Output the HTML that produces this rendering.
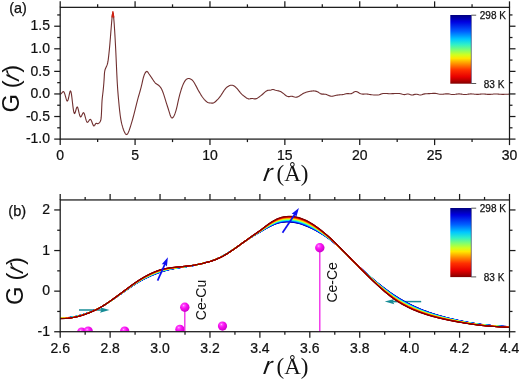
<!DOCTYPE html>
<html lang="en"><head><meta charset="utf-8"><title>G(r) pair distribution function</title>
<style>html,body{margin:0;padding:0;background:#fff}body{width:520px;height:381px;overflow:hidden}svg text{white-space:pre}</style>
</head><body>
<svg width="520" height="381" viewBox="0 0 520 381" style="display:block">
<rect width="520" height="381" fill="#fff"/>
<defs>
<linearGradient id="jet" x1="0" y1="0" x2="0" y2="1">
<stop offset="0" stop-color="#00007f"/>
<stop offset="0.1" stop-color="#0000e0"/>
<stop offset="0.24" stop-color="#0060ff"/>
<stop offset="0.35" stop-color="#00c8ff"/>
<stop offset="0.43" stop-color="#30f0c8"/>
<stop offset="0.51" stop-color="#80ff70"/>
<stop offset="0.58" stop-color="#d0ff20"/>
<stop offset="0.63" stop-color="#ffe800"/>
<stop offset="0.71" stop-color="#ff9000"/>
<stop offset="0.8" stop-color="#ff3000"/>
<stop offset="0.9" stop-color="#e80000"/>
<stop offset="0.96" stop-color="#b00000"/>
<stop offset="1" stop-color="#7f0000"/>
</linearGradient>
<radialGradient id="ball" cx="0.38" cy="0.32" r="0.7"><stop offset="0" stop-color="#ffc0ff"/><stop offset="0.15" stop-color="#ff50ff"/><stop offset="0.45" stop-color="#f810f0"/><stop offset="1" stop-color="#c800c8"/></radialGradient>
<clipPath id="clipA"><rect x="60.2" y="7.35" width="449.3" height="131.75"/></clipPath>
<clipPath id="clipB"><rect x="60.2" y="199.95" width="449.3" height="131.75"/></clipPath>
</defs>
<g clip-path="url(#clipA)">
<path d="M60.00,94.40 L60.53,94.11 L61.08,93.72 L61.67,93.12 L62.29,92.32 L62.94,91.69 L63.59,91.62 L64.22,92.47 L64.83,94.09 L65.41,96.11 L65.98,98.17 L66.52,99.90 L67.05,100.96 L67.57,100.97 L68.07,99.87 L68.55,98.00 L69.02,95.77 L69.48,93.58 L69.92,91.81 L70.34,90.86 L70.76,91.11 L71.16,92.54 L71.55,94.89 L71.94,97.88 L72.33,101.22 L72.72,104.64 L73.12,107.87 L73.53,110.61 L73.96,112.60 L74.40,113.56 L74.87,113.26 L75.35,111.99 L75.85,110.23 L76.35,108.47 L76.85,107.22 L77.35,106.95 L77.83,107.86 L78.31,109.59 L78.80,111.76 L79.31,113.96 L79.83,115.79 L80.38,116.87 L80.97,116.83 L81.59,115.85 L82.22,114.45 L82.85,113.18 L83.46,112.60 L84.04,113.13 L84.59,114.57 L85.14,116.56 L85.69,118.71 L86.26,120.65 L86.86,122.00 L87.50,122.40 L88.19,121.79 L88.91,120.70 L89.64,119.68 L90.34,119.31 L91.02,119.94 L91.66,121.30 L92.28,122.99 L92.88,124.61 L93.47,125.73 L94.06,125.98 L94.64,125.36 L95.22,124.36 L95.79,123.49 L96.36,123.22 L96.92,123.47 L97.49,123.72 L98.07,123.64 L98.65,123.30 L99.21,122.82 L99.74,122.26 L100.21,121.59 L100.58,120.80 L100.85,119.87 L101.04,118.83 L101.17,117.68 L101.27,116.46 L101.35,115.16 L101.43,113.82 L101.50,112.44 L101.57,111.04 L101.63,109.62 L101.69,108.20 L101.75,106.79 L101.80,105.40 L101.86,104.02 L101.92,102.64 L102.01,101.27 L102.11,99.90 L102.24,98.53 L102.38,97.14 L102.55,95.73 L102.72,94.26 L102.90,92.74 L103.09,91.13 L103.27,89.43 L103.44,87.67 L103.60,85.85 L103.76,84.01 L103.90,82.18 L104.03,80.37 L104.15,78.62 L104.24,76.95 L104.33,75.37 L104.42,73.89 L104.55,72.50 L104.73,71.21 L104.98,70.02 L105.33,68.94 L105.75,67.93 L106.21,66.94 L106.67,65.95 L107.10,64.90 L107.46,63.76 L107.75,62.52 L108.00,61.21 L108.21,59.83 L108.39,58.40 L108.57,56.92 L108.74,55.41 L108.91,53.88 L109.07,52.36 L109.23,50.85 L109.38,49.38 L109.51,47.95 L109.64,46.58 L109.76,45.24 L109.88,43.89 L109.99,42.52 L110.11,41.09 L110.24,39.56 L110.37,37.93 L110.51,36.19 L110.66,34.35 L110.81,32.41 L110.98,30.38 L111.15,28.27 L111.33,26.07 L111.52,23.79 L111.71,21.47 L111.91,19.21 L112.12,17.12 L112.33,15.34 L112.54,13.99 L112.75,13.18 L112.96,13.03 L113.17,13.60 L113.37,14.75 L113.57,16.38 L113.76,18.35 L113.94,20.53 L114.12,22.82 L114.28,25.07 L114.42,27.24 L114.56,29.32 L114.69,31.33 L114.81,33.27 L114.92,35.15 L115.03,36.98 L115.13,38.77 L115.23,40.52 L115.32,42.24 L115.42,43.96 L115.51,45.69 L115.60,47.45 L115.69,49.25 L115.79,51.12 L115.88,53.06 L115.97,55.10 L116.07,57.23 L116.17,59.41 L116.27,61.65 L116.37,63.91 L116.47,66.17 L116.56,68.42 L116.66,70.63 L116.76,72.79 L116.86,74.87 L116.96,76.87 L117.05,78.81 L117.15,80.68 L117.25,82.50 L117.36,84.28 L117.47,86.03 L117.58,87.75 L117.70,89.45 L117.83,91.15 L117.97,92.86 L118.11,94.59 L118.26,96.36 L118.42,98.18 L118.60,100.06 L118.78,102.02 L118.97,104.04 L119.17,106.12 L119.38,108.23 L119.61,110.34 L119.85,112.43 L120.10,114.47 L120.37,116.45 L120.66,118.34 L120.96,120.12 L121.29,121.80 L121.64,123.41 L122.02,124.95 L122.44,126.46 L122.91,127.96 L123.42,129.46 L123.99,130.96 L124.59,132.35 L125.22,133.51 L125.86,134.30 L126.51,134.60 L127.14,134.32 L127.75,133.55 L128.35,132.39 L128.93,130.97 L129.50,129.40 L130.05,127.78 L130.59,126.13 L131.12,124.44 L131.64,122.71 L132.16,120.94 L132.67,119.11 L133.17,117.24 L133.68,115.30 L134.19,113.31 L134.70,111.30 L135.20,109.27 L135.70,107.26 L136.19,105.29 L136.68,103.37 L137.14,101.53 L137.60,99.80 L138.04,98.18 L138.47,96.66 L138.88,95.23 L139.27,93.87 L139.66,92.54 L140.03,91.23 L140.40,89.93 L140.75,88.62 L141.10,87.29 L141.43,85.94 L141.77,84.55 L142.10,83.12 L142.42,81.65 L142.75,80.16 L143.11,78.67 L143.49,77.22 L143.92,75.83 L144.40,74.53 L144.95,73.36 L145.54,72.38 L146.14,71.70 L146.73,71.40 L147.29,71.57 L147.83,72.13 L148.40,72.97 L149.03,73.97 L149.74,75.04 L150.50,76.16 L151.28,77.30 L152.04,78.42 L152.77,79.51 L153.43,80.52 L154.05,81.44 L154.65,82.26 L155.26,82.98 L155.92,83.57 L156.64,84.06 L157.39,84.51 L158.15,84.99 L158.90,85.56 L159.63,86.26 L160.34,87.09 L161.03,88.09 L161.69,89.28 L162.33,90.66 L162.94,92.20 L163.53,93.86 L164.09,95.60 L164.65,97.38 L165.18,99.16 L165.71,100.90 L166.23,102.58 L166.74,104.18 L167.24,105.73 L167.74,107.26 L168.23,108.78 L168.71,110.30 L169.19,111.86 L169.67,113.45 L170.15,114.97 L170.64,116.31 L171.16,117.33 L171.72,117.92 L172.33,117.98 L172.96,117.51 L173.61,116.62 L174.25,115.39 L174.86,113.94 L175.43,112.32 L175.96,110.60 L176.44,108.83 L176.88,107.05 L177.28,105.33 L177.64,103.70 L177.96,102.22 L178.24,100.91 L178.51,99.70 L178.77,98.55 L179.05,97.37 L179.37,96.10 L179.74,94.70 L180.16,93.17 L180.63,91.56 L181.13,89.91 L181.67,88.26 L182.24,86.66 L182.83,85.14 L183.43,83.73 L184.05,82.47 L184.70,81.36 L185.36,80.41 L186.04,79.64 L186.76,79.07 L187.50,78.69 L188.28,78.51 L189.11,78.53 L189.98,78.74 L190.86,79.13 L191.72,79.69 L192.51,80.41 L193.24,81.25 L193.91,82.22 L194.56,83.28 L195.19,84.42 L195.82,85.62 L196.47,86.85 L197.14,88.12 L197.82,89.39 L198.51,90.65 L199.20,91.89 L199.89,93.10 L200.58,94.26 L201.29,95.38 L202.01,96.46 L202.76,97.51 L203.54,98.53 L204.36,99.52 L205.22,100.44 L206.08,101.26 L206.94,101.94 L207.78,102.44 L208.59,102.73 L209.38,102.89 L210.16,102.97 L210.95,103.06 L211.76,103.13 L212.56,103.11 L213.37,102.91 L214.17,102.52 L214.98,101.96 L215.78,101.28 L216.59,100.51 L217.41,99.70 L218.23,98.83 L219.03,97.90 L219.83,96.91 L220.60,95.86 L221.35,94.74 L222.08,93.60 L222.80,92.45 L223.51,91.34 L224.22,90.29 L224.94,89.32 L225.68,88.46 L226.43,87.69 L227.20,87.02 L228.01,86.43 L228.84,85.92 L229.69,85.53 L230.57,85.28 L231.45,85.19 L232.34,85.29 L233.22,85.55 L234.10,85.98 L234.96,86.56 L235.79,87.27 L236.60,88.08 L237.39,88.95 L238.14,89.87 L238.87,90.80 L239.57,91.71 L240.26,92.60 L240.97,93.43 L241.69,94.19 L242.46,94.88 L243.25,95.51 L244.06,96.12 L244.88,96.73 L245.71,97.37 L246.53,97.99 L247.37,98.51 L248.22,98.85 L249.09,98.92 L249.97,98.80 L250.86,98.61 L251.75,98.50 L252.65,98.57 L253.54,98.74 L254.44,98.89 L255.35,98.88 L256.28,98.64 L257.21,98.21 L258.14,97.64 L259.06,97.00 L259.95,96.35 L260.83,95.68 L261.70,94.98 L262.56,94.25 L263.44,93.48 L264.32,92.66 L265.20,91.87 L266.07,91.18 L266.93,90.66 L267.76,90.37 L268.56,90.29 L269.36,90.26 L270.15,90.17 L270.95,89.94 L271.74,89.68 L272.53,89.51 L273.29,89.54 L274.05,89.75 L274.85,90.03 L275.72,90.29 L276.66,90.48 L277.65,90.67 L278.64,90.88 L279.61,91.17 L280.54,91.58 L281.44,92.09 L282.34,92.70 L283.26,93.41 L284.21,94.18 L285.20,94.98 L286.19,95.70 L287.17,96.27 L288.12,96.59 L289.02,96.61 L289.90,96.44 L290.77,96.25 L291.67,96.21 L292.62,96.40 L293.61,96.71 L294.60,97.02 L295.59,97.20 L296.56,97.15 L297.51,96.89 L298.45,96.46 L299.39,95.93 L300.34,95.33 L301.29,94.70 L302.25,94.09 L303.19,93.53 L304.13,93.04 L305.06,92.65 L306.00,92.34 L306.97,92.07 L307.99,91.83 L309.09,91.57 L310.23,91.33 L311.39,91.11 L312.53,90.96 L313.62,90.90 L314.65,90.94 L315.62,91.10 L316.56,91.38 L317.48,91.79 L318.40,92.32 L319.31,92.90 L320.23,93.45 L321.15,93.88 L322.06,94.12 L322.96,94.17 L323.86,94.16 L324.76,94.19 L325.64,94.33 L326.53,94.59 L327.40,94.93 L328.28,95.29 L329.15,95.64 L330.02,95.93 L330.90,96.13 L331.77,96.20 L332.65,96.13 L333.54,95.96 L334.44,95.74 L335.37,95.51 L336.32,95.30 L337.30,95.12 L338.28,94.98 L339.28,94.88 L340.27,94.81 L341.27,94.74 L342.25,94.64 L343.23,94.47 L344.19,94.23 L345.14,93.97 L346.11,93.74 L347.09,93.60 L348.10,93.60 L349.11,93.66 L350.09,93.69 L351.01,93.62 L351.85,93.36 L352.62,92.96 L353.34,92.50 L354.03,92.06 L354.72,91.72 L355.41,91.52 L356.11,91.52 L356.85,91.74 L357.61,92.10 L358.39,92.54 L359.20,92.99 L360.04,93.41 L360.92,93.76 L361.85,93.99 L362.83,94.09 L363.84,94.08 L364.85,94.04 L365.82,94.00 L366.73,94.03 L367.62,94.12 L368.57,94.27 L369.64,94.44 L370.91,94.64 L372.33,94.82 L373.85,94.97 L375.38,95.06 L376.85,95.06 L378.18,94.95 L379.31,94.71 L380.27,94.37 L381.16,94.01 L382.06,93.70 L383.07,93.52 L384.21,93.46 L385.48,93.49 L386.87,93.57 L388.35,93.65 L389.92,93.70 L391.55,93.67 L393.22,93.60 L394.87,93.51 L396.47,93.44 L397.98,93.43 L399.36,93.51 L400.56,93.72 L401.59,94.02 L402.52,94.33 L403.41,94.55 L404.31,94.59 L405.25,94.43 L406.24,94.20 L407.23,94.02 L408.22,94.02 L409.20,94.24 L410.16,94.57 L411.11,94.87 L412.07,95.00 L413.03,94.88 L414.00,94.62 L414.97,94.34 L415.95,94.20 L416.93,94.29 L417.91,94.54 L418.88,94.82 L419.83,94.99 L420.76,94.95 L421.68,94.72 L422.63,94.40 L423.64,94.09 L424.74,93.86 L425.92,93.74 L427.15,93.68 L428.38,93.65 L429.59,93.62 L430.75,93.55 L431.85,93.46 L432.92,93.38 L433.99,93.35 L435.09,93.41 L436.24,93.57 L437.42,93.79 L438.62,94.03 L439.84,94.21 L441.06,94.30 L442.27,94.26 L443.47,94.13 L444.66,93.97 L445.85,93.84 L447.04,93.80 L448.23,93.89 L449.42,94.06 L450.62,94.26 L451.81,94.43 L453.01,94.50 L454.21,94.44 L455.40,94.30 L456.60,94.12 L457.79,93.97 L458.99,93.90 L460.18,93.96 L461.38,94.10 L462.57,94.28 L463.77,94.43 L464.96,94.50 L466.16,94.45 L467.36,94.31 L468.55,94.14 L469.75,93.98 L470.94,93.90 L472.14,93.93 L473.33,94.04 L474.53,94.19 L475.73,94.32 L476.92,94.40 L478.12,94.38 L479.32,94.29 L480.52,94.17 L481.71,94.06 L482.91,94.00 L484.10,94.03 L485.30,94.12 L486.49,94.24 L487.69,94.34 L488.89,94.40 L490.10,94.37 L491.30,94.29 L492.51,94.18 L493.70,94.07 L494.88,94.00 L496.05,94.00 L497.22,94.05 L498.40,94.13 L499.60,94.22 L500.86,94.29 L502.17,94.33 L503.53,94.33 L504.94,94.30 L506.37,94.24 L507.83,94.18 L509.30,94.10" fill="none" stroke="#702f2f" stroke-width="1.1" stroke-linejoin="round"/>
<path d="M112.0,17.5 L112.9,11.6 L113.8,17.5" fill="none" stroke="#d02010" stroke-width="1.3" stroke-linejoin="round"/>
</g>
<rect x="60.20" y="7.35" width="449.30" height="131.75" fill="none" stroke="#1a1a1a" stroke-width="1.25"/>
<line x1="60.20" y1="139.10" x2="60.20" y2="145.10" stroke="#1a1a1a" stroke-width="1.25" />
<line x1="60.20" y1="7.35" x2="60.20" y2="1.35" stroke="#1a1a1a" stroke-width="1.25" />
<line x1="97.64" y1="139.10" x2="97.64" y2="142.10" stroke="#1a1a1a" stroke-width="1.25" />
<line x1="97.64" y1="7.35" x2="97.64" y2="4.35" stroke="#1a1a1a" stroke-width="1.25" />
<line x1="135.08" y1="139.10" x2="135.08" y2="145.10" stroke="#1a1a1a" stroke-width="1.25" />
<line x1="135.08" y1="7.35" x2="135.08" y2="1.35" stroke="#1a1a1a" stroke-width="1.25" />
<line x1="172.53" y1="139.10" x2="172.53" y2="142.10" stroke="#1a1a1a" stroke-width="1.25" />
<line x1="172.53" y1="7.35" x2="172.53" y2="4.35" stroke="#1a1a1a" stroke-width="1.25" />
<line x1="209.97" y1="139.10" x2="209.97" y2="145.10" stroke="#1a1a1a" stroke-width="1.25" />
<line x1="209.97" y1="7.35" x2="209.97" y2="1.35" stroke="#1a1a1a" stroke-width="1.25" />
<line x1="247.41" y1="139.10" x2="247.41" y2="142.10" stroke="#1a1a1a" stroke-width="1.25" />
<line x1="247.41" y1="7.35" x2="247.41" y2="4.35" stroke="#1a1a1a" stroke-width="1.25" />
<line x1="284.85" y1="139.10" x2="284.85" y2="145.10" stroke="#1a1a1a" stroke-width="1.25" />
<line x1="284.85" y1="7.35" x2="284.85" y2="1.35" stroke="#1a1a1a" stroke-width="1.25" />
<line x1="322.29" y1="139.10" x2="322.29" y2="142.10" stroke="#1a1a1a" stroke-width="1.25" />
<line x1="322.29" y1="7.35" x2="322.29" y2="4.35" stroke="#1a1a1a" stroke-width="1.25" />
<line x1="359.73" y1="139.10" x2="359.73" y2="145.10" stroke="#1a1a1a" stroke-width="1.25" />
<line x1="359.73" y1="7.35" x2="359.73" y2="1.35" stroke="#1a1a1a" stroke-width="1.25" />
<line x1="397.18" y1="139.10" x2="397.18" y2="142.10" stroke="#1a1a1a" stroke-width="1.25" />
<line x1="397.18" y1="7.35" x2="397.18" y2="4.35" stroke="#1a1a1a" stroke-width="1.25" />
<line x1="434.62" y1="139.10" x2="434.62" y2="145.10" stroke="#1a1a1a" stroke-width="1.25" />
<line x1="434.62" y1="7.35" x2="434.62" y2="1.35" stroke="#1a1a1a" stroke-width="1.25" />
<line x1="472.06" y1="139.10" x2="472.06" y2="142.10" stroke="#1a1a1a" stroke-width="1.25" />
<line x1="472.06" y1="7.35" x2="472.06" y2="4.35" stroke="#1a1a1a" stroke-width="1.25" />
<line x1="509.50" y1="139.10" x2="509.50" y2="145.10" stroke="#1a1a1a" stroke-width="1.25" />
<line x1="509.50" y1="7.35" x2="509.50" y2="1.35" stroke="#1a1a1a" stroke-width="1.25" />
<line x1="60.20" y1="139.10" x2="54.20" y2="139.10" stroke="#1a1a1a" stroke-width="1.25" />
<line x1="509.50" y1="139.10" x2="515.50" y2="139.10" stroke="#1a1a1a" stroke-width="1.25" />
<line x1="60.20" y1="127.81" x2="57.20" y2="127.81" stroke="#1a1a1a" stroke-width="1.25" />
<line x1="509.50" y1="127.81" x2="512.50" y2="127.81" stroke="#1a1a1a" stroke-width="1.25" />
<line x1="60.20" y1="116.52" x2="54.20" y2="116.52" stroke="#1a1a1a" stroke-width="1.25" />
<line x1="509.50" y1="116.52" x2="515.50" y2="116.52" stroke="#1a1a1a" stroke-width="1.25" />
<line x1="60.20" y1="105.24" x2="57.20" y2="105.24" stroke="#1a1a1a" stroke-width="1.25" />
<line x1="509.50" y1="105.24" x2="512.50" y2="105.24" stroke="#1a1a1a" stroke-width="1.25" />
<line x1="60.20" y1="93.95" x2="54.20" y2="93.95" stroke="#1a1a1a" stroke-width="1.25" />
<line x1="509.50" y1="93.95" x2="515.50" y2="93.95" stroke="#1a1a1a" stroke-width="1.25" />
<line x1="60.20" y1="82.66" x2="57.20" y2="82.66" stroke="#1a1a1a" stroke-width="1.25" />
<line x1="509.50" y1="82.66" x2="512.50" y2="82.66" stroke="#1a1a1a" stroke-width="1.25" />
<line x1="60.20" y1="71.38" x2="54.20" y2="71.38" stroke="#1a1a1a" stroke-width="1.25" />
<line x1="509.50" y1="71.38" x2="515.50" y2="71.38" stroke="#1a1a1a" stroke-width="1.25" />
<line x1="60.20" y1="60.09" x2="57.20" y2="60.09" stroke="#1a1a1a" stroke-width="1.25" />
<line x1="509.50" y1="60.09" x2="512.50" y2="60.09" stroke="#1a1a1a" stroke-width="1.25" />
<line x1="60.20" y1="48.80" x2="54.20" y2="48.80" stroke="#1a1a1a" stroke-width="1.25" />
<line x1="509.50" y1="48.80" x2="515.50" y2="48.80" stroke="#1a1a1a" stroke-width="1.25" />
<line x1="60.20" y1="37.51" x2="57.20" y2="37.51" stroke="#1a1a1a" stroke-width="1.25" />
<line x1="509.50" y1="37.51" x2="512.50" y2="37.51" stroke="#1a1a1a" stroke-width="1.25" />
<line x1="60.20" y1="26.22" x2="54.20" y2="26.22" stroke="#1a1a1a" stroke-width="1.25" />
<line x1="509.50" y1="26.22" x2="515.50" y2="26.22" stroke="#1a1a1a" stroke-width="1.25" />
<line x1="60.20" y1="14.94" x2="57.20" y2="14.94" stroke="#1a1a1a" stroke-width="1.25" />
<line x1="509.50" y1="14.94" x2="512.50" y2="14.94" stroke="#1a1a1a" stroke-width="1.25" />
<text transform="translate(60.20,159.80) scale(0.965,1)" font-size="14.5" text-anchor="middle" font-family='"Liberation Sans", Arial, sans-serif' fill="#111" stroke="#111" stroke-width="0.25" >0</text>
<text transform="translate(135.08,159.80) scale(0.965,1)" font-size="14.5" text-anchor="middle" font-family='"Liberation Sans", Arial, sans-serif' fill="#111" stroke="#111" stroke-width="0.25" >5</text>
<text transform="translate(209.97,159.80) scale(0.965,1)" font-size="14.5" text-anchor="middle" font-family='"Liberation Sans", Arial, sans-serif' fill="#111" stroke="#111" stroke-width="0.25" >10</text>
<text transform="translate(284.85,159.80) scale(0.965,1)" font-size="14.5" text-anchor="middle" font-family='"Liberation Sans", Arial, sans-serif' fill="#111" stroke="#111" stroke-width="0.25" >15</text>
<text transform="translate(359.73,159.80) scale(0.965,1)" font-size="14.5" text-anchor="middle" font-family='"Liberation Sans", Arial, sans-serif' fill="#111" stroke="#111" stroke-width="0.25" >20</text>
<text transform="translate(434.62,159.80) scale(0.965,1)" font-size="14.5" text-anchor="middle" font-family='"Liberation Sans", Arial, sans-serif' fill="#111" stroke="#111" stroke-width="0.25" >25</text>
<text transform="translate(509.50,159.80) scale(0.965,1)" font-size="14.5" text-anchor="middle" font-family='"Liberation Sans", Arial, sans-serif' fill="#111" stroke="#111" stroke-width="0.25" >30</text>
<text transform="translate(50.00,30.42) scale(0.965,1)" font-size="14.5" text-anchor="end" font-family='"Liberation Sans", Arial, sans-serif' fill="#111" stroke="#111" stroke-width="0.25" >1.5</text>
<text transform="translate(50.00,53.00) scale(0.965,1)" font-size="14.5" text-anchor="end" font-family='"Liberation Sans", Arial, sans-serif' fill="#111" stroke="#111" stroke-width="0.25" >1.0</text>
<text transform="translate(50.00,75.58) scale(0.965,1)" font-size="14.5" text-anchor="end" font-family='"Liberation Sans", Arial, sans-serif' fill="#111" stroke="#111" stroke-width="0.25" >0.5</text>
<text transform="translate(50.00,98.15) scale(0.965,1)" font-size="14.5" text-anchor="end" font-family='"Liberation Sans", Arial, sans-serif' fill="#111" stroke="#111" stroke-width="0.25" >0.0</text>
<text transform="translate(50.00,120.72) scale(0.965,1)" font-size="14.5" text-anchor="end" font-family='"Liberation Sans", Arial, sans-serif' fill="#111" stroke="#111" stroke-width="0.25" >-0.5</text>
<text transform="translate(50.00,143.30) scale(0.965,1)" font-size="14.5" text-anchor="end" font-family='"Liberation Sans", Arial, sans-serif' fill="#111" stroke="#111" stroke-width="0.25" >-1.0</text>
<text transform="translate(9.20,13.00) scale(1,1)" font-size="14.4" text-anchor="start" font-family='"Liberation Sans", Arial, sans-serif' fill="#111" stroke="#111" stroke-width="0.25" >(a)</text>
<rect x="450.3" y="15.00" width="21" height="68.70" fill="url(#jet)"/>
<line x1="471.30" y1="15.00" x2="471.30" y2="83.70" stroke="#202060" stroke-width="0.8" opacity="0.7"/>
<line x1="471.30" y1="15.20" x2="476.20" y2="15.20" stroke="#444" stroke-width="0.9" />
<line x1="471.30" y1="83.50" x2="476.20" y2="83.50" stroke="#444" stroke-width="0.9" />
<text transform="translate(479.80,19.00) scale(1,1)" font-size="10.0" text-anchor="start" font-family='"Liberation Sans", Arial, sans-serif' fill="#111" stroke="#111" stroke-width="0.25" >298 K</text>
<text transform="translate(483.80,87.90) scale(1,1)" font-size="10.0" text-anchor="start" font-family='"Liberation Sans", Arial, sans-serif' fill="#111" stroke="#111" stroke-width="0.25" >83 K</text>
<text transform="translate(262.8,181.20) skewX(-9)" fill="#111" font-family='"Liberation Sans", Arial, sans-serif' font-style="italic" font-size="24.5">r</text>
<text x="276.6" y="181.20" fill="#111" font-family='"Liberation Serif", "Times New Roman", serif' font-size="23">(Å)</text>
<g transform="translate(18.90,112.60) rotate(-90)" fill="#111" font-size="23.7" font-family='"Liberation Sans", Arial, sans-serif'>
<text x="0" y="0">G</text><text x="24.4" y="0">(</text>
<text transform="translate(30.4,0) skewX(-16)" font-style="italic">r</text>
<text x="39.9" y="0">)</text></g>
<line x1="79.00" y1="310.00" x2="102.00" y2="310.00" stroke="#178c96" stroke-width="1.5" />
<path d="M109.50,310.00 L100.00,312.70 L101.50,310.00 L100.00,307.30 Z" fill="#178c96"/>
<line x1="421.20" y1="301.60" x2="392.30" y2="301.60" stroke="#178c96" stroke-width="1.5" />
<path d="M384.80,301.60 L394.30,298.90 L392.80,301.60 L394.30,304.30 Z" fill="#178c96"/>
<g clip-path="url(#clipB)" fill="none" stroke-linejoin="round">
<path d="M58.00,317.73 L60.54,317.76 L63.07,317.72 L65.61,317.62 L68.15,317.44 L70.68,317.15 L73.22,316.78 L75.75,316.31 L78.29,315.75 L80.83,315.09 L83.36,314.35 L85.90,313.53 L88.44,312.64 L90.97,311.64 L93.51,310.57 L96.04,309.43 L98.58,308.21 L101.12,306.89 L103.65,305.46 L106.19,303.92 L108.73,302.29 L111.26,300.60 L113.80,298.88 L116.34,297.12 L118.87,295.35 L121.41,293.57 L123.94,291.79 L126.48,290.02 L129.02,288.24 L131.55,286.50 L134.09,284.82 L136.63,283.20 L139.16,281.68 L141.70,280.26 L144.23,278.94 L146.77,277.71 L149.31,276.55 L151.84,275.46 L154.38,274.40 L156.92,273.40 L159.45,272.48 L161.99,271.63 L164.53,270.86 L167.06,270.18 L169.60,269.57 L172.13,269.02 L174.67,268.53 L177.21,268.09 L179.74,267.68 L182.28,267.29 L184.82,266.90 L187.35,266.51 L189.89,266.09 L192.42,265.65 L194.96,265.16 L197.50,264.61 L200.03,264.01 L202.57,263.34 L205.11,262.64 L207.64,261.96 L210.18,261.23 L212.72,260.38 L215.25,259.41 L217.79,258.36 L220.32,257.19 L222.86,255.90 L225.40,254.48 L227.93,252.95 L230.47,251.33 L233.01,249.66 L235.54,247.94 L238.08,246.17 L240.61,244.37 L243.15,242.59 L245.69,240.86 L248.22,239.18 L250.76,237.53 L253.30,235.94 L255.83,234.43 L258.37,232.96 L260.91,231.50 L263.44,230.01 L265.98,228.54 L268.51,227.17 L271.05,225.93 L273.59,224.78 L276.12,223.77 L278.66,222.98 L281.20,222.46 L283.73,222.12 L286.27,221.95 L288.80,221.94 L291.34,222.09 L293.88,222.41 L296.41,222.88 L298.95,223.50 L301.49,224.26 L304.02,225.13 L306.56,226.12 L309.09,227.20 L311.63,228.38 L314.17,229.64 L316.70,231.00 L319.24,232.44 L321.78,233.98 L324.31,235.57 L326.85,237.27 L329.39,239.10 L331.92,241.08 L334.46,243.20 L336.99,245.43 L339.53,247.73 L342.07,250.10 L344.60,252.53 L347.14,255.01 L349.68,257.49 L352.21,259.96 L354.75,262.42 L357.28,264.87 L359.82,267.29 L362.36,269.67 L364.89,272.00 L367.43,274.28 L369.97,276.51 L372.50,278.68 L375.04,280.80 L377.58,282.86 L380.11,284.87 L382.65,286.83 L385.18,288.75 L387.72,290.63 L390.26,292.45 L392.79,294.21 L395.33,295.90 L397.87,297.52 L400.40,299.05 L402.94,300.51 L405.47,301.92 L408.01,303.26 L410.55,304.55 L413.08,305.78 L415.62,306.96 L418.16,308.08 L420.69,309.14 L423.23,310.16 L425.77,311.13 L428.30,312.05 L430.84,312.93 L433.37,313.76 L435.91,314.56 L438.45,315.33 L440.98,316.06 L443.52,316.77 L446.06,317.44 L448.59,318.09 L451.13,318.71 L453.66,319.31 L456.20,319.88 L458.74,320.44 L461.27,320.97 L463.81,321.48 L466.35,321.97 L468.88,322.44 L471.42,322.89 L473.96,323.31 L476.49,323.72 L479.03,324.09 L481.56,324.42 L484.10,324.73 L486.64,325.01 L489.17,325.26 L491.71,325.49 L494.25,325.70 L496.78,325.89 L499.32,326.07 L501.85,326.24 L504.39,326.39 L506.93,326.54 L509.46,326.69 L512.00,326.84" stroke="#00007f" stroke-width="1.1"/>
<path d="M58.00,317.76 L60.54,317.79 L63.07,317.76 L65.61,317.66 L68.15,317.47 L70.68,317.18 L73.22,316.80 L75.75,316.34 L78.29,315.77 L80.83,315.11 L83.36,314.37 L85.90,313.55 L88.44,312.65 L90.97,311.66 L93.51,310.58 L96.04,309.44 L98.58,308.22 L101.12,306.90 L103.65,305.46 L106.19,303.91 L108.73,302.28 L111.26,300.59 L113.80,298.87 L116.34,297.11 L118.87,295.33 L121.41,293.54 L123.94,291.76 L126.48,289.98 L129.02,288.21 L131.55,286.46 L134.09,284.77 L136.63,283.15 L139.16,281.62 L141.70,280.20 L144.23,278.87 L146.77,277.63 L149.31,276.47 L151.84,275.37 L154.38,274.31 L156.92,273.31 L159.45,272.39 L161.99,271.55 L164.53,270.78 L167.06,270.11 L169.60,269.51 L172.13,268.97 L174.67,268.49 L177.21,268.05 L179.74,267.65 L182.28,267.26 L184.82,266.88 L187.35,266.49 L189.89,266.08 L192.42,265.64 L194.96,265.15 L197.50,264.61 L200.03,264.01 L202.57,263.35 L205.11,262.65 L207.64,261.97 L210.18,261.24 L212.72,260.39 L215.25,259.42 L217.79,258.37 L220.32,257.20 L222.86,255.91 L225.40,254.49 L227.93,252.96 L230.47,251.34 L233.01,249.67 L235.54,247.95 L238.08,246.17 L240.61,244.37 L243.15,242.58 L245.69,240.85 L248.22,239.17 L250.76,237.51 L253.30,235.92 L255.83,234.40 L258.37,232.92 L260.91,231.44 L263.44,229.94 L265.98,228.45 L268.51,227.05 L271.05,225.80 L273.59,224.64 L276.12,223.61 L278.66,222.81 L281.20,222.28 L283.73,221.93 L286.27,221.75 L288.80,221.73 L291.34,221.88 L293.88,222.20 L296.41,222.67 L298.95,223.29 L301.49,224.05 L304.02,224.93 L306.56,225.92 L309.09,227.01 L311.63,228.20 L314.17,229.48 L316.70,230.85 L319.24,232.31 L321.78,233.86 L324.31,235.48 L326.85,237.19 L329.39,239.03 L331.92,241.03 L334.46,243.16 L336.99,245.40 L339.53,247.71 L342.07,250.09 L344.60,252.53 L347.14,255.00 L349.68,257.49 L352.21,259.96 L354.75,262.43 L357.28,264.89 L359.82,267.31 L362.36,269.70 L364.89,272.04 L367.43,274.32 L369.97,276.56 L372.50,278.74 L375.04,280.87 L377.58,282.95 L380.11,284.97 L382.65,286.94 L385.18,288.87 L387.72,290.75 L390.26,292.58 L392.79,294.35 L395.33,296.04 L397.87,297.66 L400.40,299.20 L402.94,300.66 L405.47,302.06 L408.01,303.41 L410.55,304.69 L413.08,305.92 L415.62,307.09 L418.16,308.21 L420.69,309.27 L423.23,310.28 L425.77,311.24 L428.30,312.16 L430.84,313.03 L433.37,313.87 L435.91,314.66 L438.45,315.42 L440.98,316.15 L443.52,316.85 L446.06,317.52 L448.59,318.16 L451.13,318.78 L453.66,319.38 L456.20,319.95 L458.74,320.50 L461.27,321.03 L463.81,321.53 L466.35,322.02 L468.88,322.49 L471.42,322.93 L473.96,323.36 L476.49,323.76 L479.03,324.13 L481.56,324.46 L484.10,324.77 L486.64,325.04 L489.17,325.29 L491.71,325.52 L494.25,325.73 L496.78,325.92 L499.32,326.10 L501.85,326.26 L504.39,326.42 L506.93,326.57 L509.46,326.72 L512.00,326.87" stroke="#0000a8" stroke-width="1.1"/>
<path d="M58.00,317.79 L60.54,317.82 L63.07,317.79 L65.61,317.69 L68.15,317.50 L70.68,317.21 L73.22,316.83 L75.75,316.36 L78.29,315.80 L80.83,315.13 L83.36,314.39 L85.90,313.57 L88.44,312.67 L90.97,311.67 L93.51,310.60 L96.04,309.45 L98.58,308.22 L101.12,306.90 L103.65,305.46 L106.19,303.91 L108.73,302.28 L111.26,300.59 L113.80,298.85 L116.34,297.09 L118.87,295.31 L121.41,293.52 L123.94,291.73 L126.48,289.95 L129.02,288.17 L131.55,286.42 L134.09,284.72 L136.63,283.10 L139.16,281.56 L141.70,280.14 L144.23,278.80 L146.77,277.56 L149.31,276.39 L151.84,275.28 L154.38,274.22 L156.92,273.22 L159.45,272.31 L161.99,271.47 L164.53,270.71 L167.06,270.05 L169.60,269.45 L172.13,268.92 L174.67,268.44 L177.21,268.01 L179.74,267.61 L182.28,267.24 L184.82,266.86 L187.35,266.48 L189.89,266.07 L192.42,265.63 L194.96,265.15 L197.50,264.61 L200.03,264.01 L202.57,263.35 L205.11,262.65 L207.64,261.97 L210.18,261.24 L212.72,260.40 L215.25,259.43 L217.79,258.38 L220.32,257.21 L222.86,255.92 L225.40,254.50 L227.93,252.96 L230.47,251.35 L233.01,249.68 L235.54,247.95 L238.08,246.18 L240.61,244.37 L243.15,242.58 L245.69,240.84 L248.22,239.16 L250.76,237.49 L253.30,235.90 L255.83,234.36 L258.37,232.87 L260.91,231.38 L263.44,229.86 L265.98,228.36 L268.51,226.94 L271.05,225.67 L273.59,224.49 L276.12,223.46 L278.66,222.64 L281.20,222.10 L283.73,221.74 L286.27,221.55 L288.80,221.53 L291.34,221.68 L293.88,221.99 L296.41,222.46 L298.95,223.08 L301.49,223.84 L304.02,224.73 L306.56,225.73 L309.09,226.83 L311.63,228.02 L314.17,229.32 L316.70,230.70 L319.24,232.18 L321.78,233.75 L324.31,235.38 L326.85,237.11 L329.39,238.97 L331.92,240.98 L334.46,243.12 L336.99,245.37 L339.53,247.69 L342.07,250.07 L344.60,252.52 L347.14,255.00 L349.68,257.49 L352.21,259.96 L354.75,262.44 L357.28,264.90 L359.82,267.33 L362.36,269.72 L364.89,272.07 L367.43,274.37 L369.97,276.62 L372.50,278.81 L375.04,280.95 L377.58,283.03 L380.11,285.06 L382.65,287.05 L385.18,288.99 L387.72,290.88 L390.26,292.72 L392.79,294.49 L395.33,296.19 L397.87,297.81 L400.40,299.35 L402.94,300.81 L405.47,302.21 L408.01,303.55 L410.55,304.83 L413.08,306.06 L415.62,307.23 L418.16,308.34 L420.69,309.40 L423.23,310.40 L425.77,311.36 L428.30,312.27 L430.84,313.14 L433.37,313.97 L435.91,314.76 L438.45,315.52 L440.98,316.24 L443.52,316.93 L446.06,317.60 L448.59,318.24 L451.13,318.85 L453.66,319.44 L456.20,320.01 L458.74,320.56 L461.27,321.08 L463.81,321.59 L466.35,322.07 L468.88,322.53 L471.42,322.98 L473.96,323.40 L476.49,323.80 L479.03,324.16 L481.56,324.50 L484.10,324.80 L486.64,325.08 L489.17,325.33 L491.71,325.55 L494.25,325.76 L496.78,325.95 L499.32,326.13 L501.85,326.29 L504.39,326.45 L506.93,326.60 L509.46,326.75 L512.00,326.89" stroke="#0000d1" stroke-width="1.1"/>
<path d="M58.00,317.82 L60.54,317.85 L63.07,317.82 L65.61,317.72 L68.15,317.53 L70.68,317.24 L73.22,316.86 L75.75,316.39 L78.29,315.82 L80.83,315.16 L83.36,314.41 L85.90,313.59 L88.44,312.69 L90.97,311.69 L93.51,310.61 L96.04,309.46 L98.58,308.23 L101.12,306.91 L103.65,305.46 L106.19,303.91 L108.73,302.27 L111.26,300.58 L113.80,298.84 L116.34,297.07 L118.87,295.29 L121.41,293.49 L123.94,291.70 L126.48,289.91 L129.02,288.13 L131.55,286.38 L134.09,284.67 L136.63,283.04 L139.16,281.51 L141.70,280.07 L144.23,278.73 L146.77,277.48 L149.31,276.31 L151.84,275.20 L154.38,274.13 L156.92,273.13 L159.45,272.22 L161.99,271.38 L164.53,270.63 L167.06,269.98 L169.60,269.39 L172.13,268.87 L174.67,268.40 L177.21,267.97 L179.74,267.58 L182.28,267.21 L184.82,266.84 L187.35,266.46 L189.89,266.06 L192.42,265.62 L194.96,265.14 L197.50,264.61 L200.03,264.01 L202.57,263.35 L205.11,262.66 L207.64,261.98 L210.18,261.25 L212.72,260.41 L215.25,259.44 L217.79,258.39 L220.32,257.22 L222.86,255.93 L225.40,254.51 L227.93,252.97 L230.47,251.36 L233.01,249.69 L235.54,247.96 L238.08,246.18 L240.61,244.38 L243.15,242.58 L245.69,240.84 L248.22,239.15 L250.76,237.47 L253.30,235.87 L255.83,234.33 L258.37,232.82 L260.91,231.32 L263.44,229.78 L265.98,228.26 L268.51,226.83 L271.05,225.55 L273.59,224.35 L276.12,223.30 L278.66,222.47 L281.20,221.92 L283.73,221.55 L286.27,221.36 L288.80,221.33 L291.34,221.47 L293.88,221.78 L296.41,222.25 L298.95,222.87 L301.49,223.64 L304.02,224.52 L306.56,225.53 L309.09,226.64 L311.63,227.85 L314.17,229.15 L316.70,230.55 L319.24,232.05 L321.78,233.63 L324.31,235.28 L326.85,237.03 L329.39,238.90 L331.92,240.93 L334.46,243.08 L336.99,245.34 L339.53,247.68 L342.07,250.06 L344.60,252.51 L347.14,255.00 L349.68,257.49 L352.21,259.97 L354.75,262.45 L357.28,264.91 L359.82,267.35 L362.36,269.75 L364.89,272.10 L367.43,274.41 L369.97,276.67 L372.50,278.87 L375.04,281.02 L377.58,283.12 L380.11,285.16 L382.65,287.16 L385.18,289.11 L387.72,291.01 L390.26,292.85 L392.79,294.63 L395.33,296.33 L397.87,297.96 L400.40,299.49 L402.94,300.96 L405.47,302.36 L408.01,303.70 L410.55,304.98 L413.08,306.20 L415.62,307.36 L418.16,308.47 L420.69,309.52 L423.23,310.53 L425.77,311.48 L428.30,312.39 L430.84,313.25 L433.37,314.07 L435.91,314.86 L438.45,315.61 L440.98,316.33 L443.52,317.02 L446.06,317.68 L448.59,318.31 L451.13,318.92 L453.66,319.51 L456.20,320.07 L458.74,320.62 L461.27,321.14 L463.81,321.64 L466.35,322.12 L468.88,322.58 L471.42,323.02 L473.96,323.44 L476.49,323.84 L479.03,324.20 L481.56,324.53 L484.10,324.84 L486.64,325.11 L489.17,325.36 L491.71,325.58 L494.25,325.79 L496.78,325.98 L499.32,326.16 L501.85,326.32 L504.39,326.48 L506.93,326.63 L509.46,326.78 L512.00,326.92" stroke="#0000fa" stroke-width="1.1"/>
<path d="M58.00,317.85 L60.54,317.88 L63.07,317.85 L65.61,317.75 L68.15,317.56 L70.68,317.27 L73.22,316.89 L75.75,316.42 L78.29,315.85 L80.83,315.18 L83.36,314.44 L85.90,313.61 L88.44,312.71 L90.97,311.70 L93.51,310.62 L96.04,309.47 L98.58,308.24 L101.12,306.91 L103.65,305.46 L106.19,303.91 L108.73,302.27 L111.26,300.57 L113.80,298.83 L116.34,297.06 L118.87,295.27 L121.41,293.47 L123.94,291.67 L126.48,289.88 L129.02,288.09 L131.55,286.33 L134.09,284.63 L136.63,282.99 L139.16,281.45 L141.70,280.01 L144.23,278.66 L146.77,277.41 L149.31,276.23 L151.84,275.11 L154.38,274.04 L156.92,273.05 L159.45,272.13 L161.99,271.30 L164.53,270.55 L167.06,269.91 L169.60,269.33 L172.13,268.81 L174.67,268.35 L177.21,267.94 L179.74,267.55 L182.28,267.18 L184.82,266.82 L187.35,266.44 L189.89,266.05 L192.42,265.61 L194.96,265.14 L197.50,264.61 L200.03,264.01 L202.57,263.35 L205.11,262.66 L207.64,261.99 L210.18,261.26 L212.72,260.42 L215.25,259.45 L217.79,258.40 L220.32,257.23 L222.86,255.94 L225.40,254.52 L227.93,252.98 L230.47,251.37 L233.01,249.69 L235.54,247.96 L238.08,246.18 L240.61,244.38 L243.15,242.58 L245.69,240.83 L248.22,239.13 L250.76,237.46 L253.30,235.85 L255.83,234.30 L258.37,232.78 L260.91,231.26 L263.44,229.71 L265.98,228.17 L268.51,226.72 L271.05,225.42 L273.59,224.21 L276.12,223.14 L278.66,222.30 L281.20,221.74 L283.73,221.36 L286.27,221.16 L288.80,221.13 L291.34,221.27 L293.88,221.57 L296.41,222.04 L298.95,222.66 L301.49,223.43 L304.02,224.32 L306.56,225.33 L309.09,226.45 L311.63,227.67 L314.17,228.99 L316.70,230.41 L319.24,231.92 L321.78,233.52 L324.31,235.19 L326.85,236.95 L329.39,238.84 L331.92,240.87 L334.46,243.05 L336.99,245.32 L339.53,247.66 L342.07,250.05 L344.60,252.50 L347.14,254.99 L349.68,257.49 L352.21,259.97 L354.75,262.45 L357.28,264.92 L359.82,267.36 L362.36,269.77 L364.89,272.14 L367.43,274.45 L369.97,276.72 L372.50,278.94 L375.04,281.10 L377.58,283.21 L380.11,285.26 L382.65,287.27 L385.18,289.23 L387.72,291.14 L390.26,292.98 L392.79,294.77 L395.33,296.48 L397.87,298.10 L400.40,299.64 L402.94,301.11 L405.47,302.50 L408.01,303.84 L410.55,305.12 L413.08,306.34 L415.62,307.50 L418.16,308.60 L420.69,309.65 L423.23,310.65 L425.77,311.60 L428.30,312.50 L430.84,313.36 L433.37,314.18 L435.91,314.96 L438.45,315.70 L440.98,316.42 L443.52,317.10 L446.06,317.76 L448.59,318.39 L451.13,318.99 L453.66,319.58 L456.20,320.14 L458.74,320.68 L461.27,321.19 L463.81,321.69 L466.35,322.17 L468.88,322.63 L471.42,323.07 L473.96,323.48 L476.49,323.88 L479.03,324.24 L481.56,324.57 L484.10,324.87 L486.64,325.14 L489.17,325.39 L491.71,325.62 L494.25,325.82 L496.78,326.01 L499.32,326.18 L501.85,326.35 L504.39,326.50 L506.93,326.65 L509.46,326.80 L512.00,326.95" stroke="#0010ff" stroke-width="1.1"/>
<path d="M58.00,317.88 L60.54,317.91 L63.07,317.88 L65.61,317.78 L68.15,317.59 L70.68,317.30 L73.22,316.92 L75.75,316.44 L78.29,315.88 L80.83,315.21 L83.36,314.46 L85.90,313.63 L88.44,312.73 L90.97,311.72 L93.51,310.64 L96.04,309.48 L98.58,308.25 L101.12,306.92 L103.65,305.47 L106.19,303.91 L108.73,302.26 L111.26,300.56 L113.80,298.81 L116.34,297.04 L118.87,295.25 L121.41,293.44 L123.94,291.64 L126.48,289.85 L129.02,288.06 L131.55,286.29 L134.09,284.58 L136.63,282.94 L139.16,281.39 L141.70,279.95 L144.23,278.60 L146.77,277.33 L149.31,276.15 L151.84,275.02 L154.38,273.96 L156.92,272.96 L159.45,272.04 L161.99,271.22 L164.53,270.48 L167.06,269.84 L169.60,269.27 L172.13,268.76 L174.67,268.31 L177.21,267.90 L179.74,267.52 L182.28,267.16 L184.82,266.80 L187.35,266.43 L189.89,266.03 L192.42,265.61 L194.96,265.13 L197.50,264.60 L200.03,264.02 L202.57,263.36 L205.11,262.67 L207.64,261.99 L210.18,261.27 L212.72,260.43 L215.25,259.46 L217.79,258.41 L220.32,257.24 L222.86,255.95 L225.40,254.53 L227.93,252.99 L230.47,251.38 L233.01,249.70 L235.54,247.97 L238.08,246.19 L240.61,244.38 L243.15,242.58 L245.69,240.83 L248.22,239.12 L250.76,237.44 L253.30,235.82 L255.83,234.26 L258.37,232.73 L260.91,231.20 L263.44,229.63 L265.98,228.07 L268.51,226.61 L271.05,225.29 L273.59,224.06 L276.12,222.98 L278.66,222.13 L281.20,221.56 L283.73,221.17 L286.27,220.96 L288.80,220.93 L291.34,221.06 L293.88,221.36 L296.41,221.83 L298.95,222.45 L301.49,223.22 L304.02,224.12 L306.56,225.13 L309.09,226.26 L311.63,227.49 L314.17,228.83 L316.70,230.26 L319.24,231.79 L321.78,233.41 L324.31,235.09 L326.85,236.87 L329.39,238.77 L331.92,240.82 L334.46,243.01 L336.99,245.29 L339.53,247.64 L342.07,250.04 L344.60,252.50 L347.14,254.99 L349.68,257.49 L352.21,259.97 L354.75,262.46 L357.28,264.93 L359.82,267.38 L362.36,269.80 L364.89,272.17 L367.43,274.50 L369.97,276.78 L372.50,279.00 L375.04,281.18 L377.58,283.30 L380.11,285.36 L382.65,287.38 L385.18,289.35 L387.72,291.26 L390.26,293.12 L392.79,294.91 L395.33,296.62 L397.87,298.25 L400.40,299.79 L402.94,301.25 L405.47,302.65 L408.01,303.99 L410.55,305.26 L413.08,306.48 L415.62,307.63 L418.16,308.73 L420.69,309.78 L423.23,310.77 L425.77,311.71 L428.30,312.61 L430.84,313.47 L433.37,314.28 L435.91,315.05 L438.45,315.80 L440.98,316.51 L443.52,317.19 L446.06,317.84 L448.59,318.46 L451.13,319.07 L453.66,319.64 L456.20,320.20 L458.74,320.74 L461.27,321.25 L463.81,321.75 L466.35,322.22 L468.88,322.68 L471.42,323.11 L473.96,323.53 L476.49,323.92 L479.03,324.28 L481.56,324.61 L484.10,324.91 L486.64,325.18 L489.17,325.42 L491.71,325.65 L494.25,325.85 L496.78,326.04 L499.32,326.21 L501.85,326.38 L504.39,326.53 L506.93,326.68 L509.46,326.83 L512.00,326.98" stroke="#0034ff" stroke-width="1.1"/>
<path d="M58.00,317.91 L60.54,317.94 L63.07,317.91 L65.61,317.81 L68.15,317.62 L70.68,317.33 L73.22,316.94 L75.75,316.47 L78.29,315.90 L80.83,315.23 L83.36,314.48 L85.90,313.66 L88.44,312.74 L90.97,311.73 L93.51,310.65 L96.04,309.49 L98.58,308.25 L101.12,306.92 L103.65,305.47 L106.19,303.90 L108.73,302.25 L111.26,300.55 L113.80,298.80 L116.34,297.02 L118.87,295.22 L121.41,293.42 L123.94,291.62 L126.48,289.81 L129.02,288.02 L131.55,286.25 L134.09,284.53 L136.63,282.89 L139.16,281.33 L141.70,279.88 L144.23,278.53 L146.77,277.26 L149.31,276.07 L151.84,274.94 L154.38,273.87 L156.92,272.87 L159.45,271.96 L161.99,271.14 L164.53,270.40 L167.06,269.77 L169.60,269.21 L172.13,268.71 L174.67,268.26 L177.21,267.86 L179.74,267.49 L182.28,267.13 L184.82,266.78 L187.35,266.41 L189.89,266.02 L192.42,265.60 L194.96,265.13 L197.50,264.60 L200.03,264.02 L202.57,263.36 L205.11,262.67 L207.64,262.00 L210.18,261.27 L212.72,260.44 L215.25,259.47 L217.79,258.42 L220.32,257.25 L222.86,255.96 L225.40,254.54 L227.93,253.00 L230.47,251.38 L233.01,249.71 L235.54,247.98 L238.08,246.19 L240.61,244.38 L243.15,242.57 L245.69,240.82 L248.22,239.11 L250.76,237.42 L253.30,235.80 L255.83,234.23 L258.37,232.69 L260.91,231.14 L263.44,229.55 L265.98,227.98 L268.51,226.50 L271.05,225.16 L273.59,223.92 L276.12,222.83 L278.66,221.96 L281.20,221.38 L283.73,220.99 L286.27,220.77 L288.80,220.72 L291.34,220.85 L293.88,221.15 L296.41,221.62 L298.95,222.24 L301.49,223.01 L304.02,223.91 L306.56,224.94 L309.09,226.07 L311.63,227.32 L314.17,228.66 L316.70,230.11 L319.24,231.66 L321.78,233.29 L324.31,234.99 L326.85,236.79 L329.39,238.71 L331.92,240.77 L334.46,242.97 L336.99,245.26 L339.53,247.62 L342.07,250.02 L344.60,252.49 L347.14,254.99 L349.68,257.49 L352.21,259.98 L354.75,262.47 L357.28,264.95 L359.82,267.40 L362.36,269.82 L364.89,272.20 L367.43,274.54 L369.97,276.83 L372.50,279.07 L375.04,281.25 L377.58,283.38 L380.11,285.46 L382.65,287.49 L385.18,289.47 L387.72,291.39 L390.26,293.25 L392.79,295.05 L395.33,296.76 L397.87,298.40 L400.40,299.94 L402.94,301.40 L405.47,302.80 L408.01,304.13 L410.55,305.40 L413.08,306.62 L415.62,307.77 L418.16,308.86 L420.69,309.90 L423.23,310.89 L425.77,311.83 L428.30,312.72 L430.84,313.57 L433.37,314.38 L435.91,315.15 L438.45,315.89 L440.98,316.59 L443.52,317.27 L446.06,317.92 L448.59,318.54 L451.13,319.14 L453.66,319.71 L456.20,320.26 L458.74,320.80 L461.27,321.31 L463.81,321.80 L466.35,322.27 L468.88,322.72 L471.42,323.16 L473.96,323.57 L476.49,323.96 L479.03,324.32 L481.56,324.64 L484.10,324.94 L486.64,325.21 L489.17,325.45 L491.71,325.68 L494.25,325.88 L496.78,326.07 L499.32,326.24 L501.85,326.40 L504.39,326.56 L506.93,326.71 L509.46,326.86 L512.00,327.00" stroke="#0058ff" stroke-width="1.1"/>
<path d="M58.00,317.94 L60.54,317.97 L63.07,317.94 L65.61,317.84 L68.15,317.65 L70.68,317.35 L73.22,316.97 L75.75,316.50 L78.29,315.93 L80.83,315.25 L83.36,314.50 L85.90,313.68 L88.44,312.76 L90.97,311.75 L93.51,310.66 L96.04,309.50 L98.58,308.26 L101.12,306.93 L103.65,305.47 L106.19,303.90 L108.73,302.25 L111.26,300.54 L113.80,298.79 L116.34,297.01 L118.87,295.20 L121.41,293.39 L123.94,291.59 L126.48,289.78 L129.02,287.98 L131.55,286.21 L134.09,284.48 L136.63,282.83 L139.16,281.27 L141.70,279.82 L144.23,278.46 L146.77,277.18 L149.31,275.98 L151.84,274.85 L154.38,273.78 L156.92,272.78 L159.45,271.87 L161.99,271.05 L164.53,270.32 L167.06,269.70 L169.60,269.15 L172.13,268.66 L174.67,268.22 L177.21,267.82 L179.74,267.46 L182.28,267.11 L184.82,266.76 L187.35,266.40 L189.89,266.01 L192.42,265.59 L194.96,265.12 L197.50,264.60 L200.03,264.02 L202.57,263.36 L205.11,262.68 L207.64,262.01 L210.18,261.28 L212.72,260.44 L215.25,259.48 L217.79,258.43 L220.32,257.26 L222.86,255.97 L225.40,254.55 L227.93,253.01 L230.47,251.39 L233.01,249.72 L235.54,247.98 L238.08,246.19 L240.61,244.38 L243.15,242.57 L245.69,240.81 L248.22,239.10 L250.76,237.41 L253.30,235.77 L255.83,234.19 L258.37,232.64 L260.91,231.08 L263.44,229.48 L265.98,227.89 L268.51,226.38 L271.05,225.03 L273.59,223.78 L276.12,222.67 L278.66,221.79 L281.20,221.20 L283.73,220.80 L286.27,220.57 L288.80,220.52 L291.34,220.65 L293.88,220.94 L296.41,221.41 L298.95,222.03 L301.49,222.81 L304.02,223.71 L306.56,224.74 L309.09,225.89 L311.63,227.14 L314.17,228.50 L316.70,229.96 L319.24,231.53 L321.78,233.18 L324.31,234.90 L326.85,236.71 L329.39,238.64 L331.92,240.72 L334.46,242.93 L336.99,245.23 L339.53,247.60 L342.07,250.01 L344.60,252.48 L347.14,254.98 L349.68,257.49 L352.21,259.98 L354.75,262.48 L357.28,264.96 L359.82,267.42 L362.36,269.85 L364.89,272.24 L367.43,274.58 L369.97,276.88 L372.50,279.13 L375.04,281.33 L377.58,283.47 L380.11,285.56 L382.65,287.60 L385.18,289.59 L387.72,291.52 L390.26,293.39 L392.79,295.19 L395.33,296.91 L397.87,298.54 L400.40,300.08 L402.94,301.55 L405.47,302.95 L408.01,304.28 L410.55,305.55 L413.08,306.75 L415.62,307.90 L418.16,308.99 L420.69,310.03 L423.23,311.01 L425.77,311.95 L428.30,312.84 L430.84,313.68 L433.37,314.48 L435.91,315.25 L438.45,315.98 L440.98,316.68 L443.52,317.35 L446.06,318.00 L448.59,318.61 L451.13,319.21 L453.66,319.78 L456.20,320.33 L458.74,320.86 L461.27,321.36 L463.81,321.85 L466.35,322.32 L468.88,322.77 L471.42,323.20 L473.96,323.61 L476.49,324.00 L479.03,324.36 L481.56,324.68 L484.10,324.98 L486.64,325.24 L489.17,325.49 L491.71,325.71 L494.25,325.91 L496.78,326.10 L499.32,326.27 L501.85,326.43 L504.39,326.59 L506.93,326.74 L509.46,326.89 L512.00,327.03" stroke="#0080ff" stroke-width="1.1"/>
<path d="M58.00,317.97 L60.54,318.00 L63.07,317.97 L65.61,317.87 L68.15,317.68 L70.68,317.38 L73.22,317.00 L75.75,316.53 L78.29,315.95 L80.83,315.28 L83.36,314.52 L85.90,313.70 L88.44,312.78 L90.97,311.77 L93.51,310.68 L96.04,309.51 L98.58,308.27 L101.12,306.93 L103.65,305.47 L106.19,303.90 L108.73,302.24 L111.26,300.53 L113.80,298.78 L116.34,296.99 L118.87,295.18 L121.41,293.37 L123.94,291.56 L126.48,289.75 L129.02,287.94 L131.55,286.16 L134.09,284.44 L136.63,282.78 L139.16,281.22 L141.70,279.76 L144.23,278.39 L146.77,277.10 L149.31,275.90 L151.84,274.77 L154.38,273.69 L156.92,272.69 L159.45,271.78 L161.99,270.97 L164.53,270.25 L167.06,269.63 L169.60,269.09 L172.13,268.61 L174.67,268.17 L177.21,267.79 L179.74,267.43 L182.28,267.08 L184.82,266.74 L187.35,266.38 L189.89,266.00 L192.42,265.58 L194.96,265.12 L197.50,264.60 L200.03,264.02 L202.57,263.37 L205.11,262.68 L207.64,262.01 L210.18,261.29 L212.72,260.45 L215.25,259.49 L217.79,258.44 L220.32,257.27 L222.86,255.98 L225.40,254.56 L227.93,253.02 L230.47,251.40 L233.01,249.72 L235.54,247.99 L238.08,246.20 L240.61,244.38 L243.15,242.57 L245.69,240.81 L248.22,239.09 L250.76,237.39 L253.30,235.75 L255.83,234.16 L258.37,232.60 L260.91,231.02 L263.44,229.40 L265.98,227.79 L268.51,226.27 L271.05,224.90 L273.59,223.63 L276.12,222.51 L278.66,221.62 L281.20,221.02 L283.73,220.61 L286.27,220.37 L288.80,220.32 L291.34,220.44 L293.88,220.74 L296.41,221.20 L298.95,221.82 L301.49,222.60 L304.02,223.51 L306.56,224.54 L309.09,225.70 L311.63,226.96 L314.17,228.34 L316.70,229.82 L319.24,231.40 L321.78,233.06 L324.31,234.80 L326.85,236.63 L329.39,238.57 L331.92,240.67 L334.46,242.89 L336.99,245.20 L339.53,247.58 L342.07,250.00 L344.60,252.47 L347.14,254.98 L349.68,257.49 L352.21,259.99 L354.75,262.48 L357.28,264.97 L359.82,267.44 L362.36,269.87 L364.89,272.27 L367.43,274.63 L369.97,276.94 L372.50,279.20 L375.04,281.41 L377.58,283.56 L380.11,285.66 L382.65,287.71 L385.18,289.70 L387.72,291.65 L390.26,293.52 L392.79,295.33 L395.33,297.05 L397.87,298.69 L400.40,300.23 L402.94,301.70 L405.47,303.09 L408.01,304.42 L410.55,305.69 L413.08,306.89 L415.62,308.04 L418.16,309.13 L420.69,310.16 L423.23,311.14 L425.77,312.07 L428.30,312.95 L430.84,313.79 L433.37,314.59 L435.91,315.35 L438.45,316.08 L440.98,316.77 L443.52,317.44 L446.06,318.08 L448.59,318.69 L451.13,319.28 L453.66,319.84 L456.20,320.39 L458.74,320.91 L461.27,321.42 L463.81,321.91 L466.35,322.37 L468.88,322.82 L471.42,323.25 L473.96,323.65 L476.49,324.04 L479.03,324.39 L481.56,324.72 L484.10,325.01 L486.64,325.28 L489.17,325.52 L491.71,325.74 L494.25,325.94 L496.78,326.13 L499.32,326.30 L501.85,326.46 L504.39,326.62 L506.93,326.77 L509.46,326.91 L512.00,327.06" stroke="#00a4ff" stroke-width="1.1"/>
<path d="M58.00,318.00 L60.54,318.03 L63.07,318.00 L65.61,317.90 L68.15,317.71 L70.68,317.41 L73.22,317.03 L75.75,316.55 L78.29,315.98 L80.83,315.30 L83.36,314.55 L85.90,313.72 L88.44,312.80 L90.97,311.78 L93.51,310.69 L96.04,309.52 L98.58,308.28 L101.12,306.93 L103.65,305.47 L106.19,303.90 L108.73,302.24 L111.26,300.52 L113.80,298.76 L116.34,296.97 L118.87,295.16 L121.41,293.34 L123.94,291.53 L126.48,289.71 L129.02,287.90 L131.55,286.12 L134.09,284.39 L136.63,282.73 L139.16,281.16 L141.70,279.69 L144.23,278.32 L146.77,277.03 L149.31,275.82 L151.84,274.68 L154.38,273.60 L156.92,272.60 L159.45,271.69 L161.99,270.89 L164.53,270.17 L167.06,269.57 L169.60,269.03 L172.13,268.55 L174.67,268.13 L177.21,267.75 L179.74,267.39 L182.28,267.05 L184.82,266.72 L187.35,266.36 L189.89,265.99 L192.42,265.57 L194.96,265.11 L197.50,264.60 L200.03,264.02 L202.57,263.37 L205.11,262.69 L207.64,262.02 L210.18,261.30 L212.72,260.46 L215.25,259.50 L217.79,258.45 L220.32,257.28 L222.86,255.99 L225.40,254.57 L227.93,253.03 L230.47,251.41 L233.01,249.73 L235.54,247.99 L238.08,246.20 L240.61,244.38 L243.15,242.57 L245.69,240.80 L248.22,239.08 L250.76,237.37 L253.30,235.72 L255.83,234.13 L258.37,232.55 L260.91,230.96 L263.44,229.33 L265.98,227.70 L268.51,226.16 L271.05,224.77 L273.59,223.49 L276.12,222.35 L278.66,221.45 L281.20,220.84 L283.73,220.42 L286.27,220.18 L288.80,220.12 L291.34,220.23 L293.88,220.53 L296.41,220.99 L298.95,221.61 L301.49,222.39 L304.02,223.30 L306.56,224.35 L309.09,225.51 L311.63,226.79 L314.17,228.18 L316.70,229.67 L319.24,231.27 L321.78,232.95 L324.31,234.70 L326.85,236.54 L329.39,238.51 L331.92,240.62 L334.46,242.85 L336.99,245.18 L339.53,247.56 L342.07,249.98 L344.60,252.47 L347.14,254.98 L349.68,257.49 L352.21,259.99 L354.75,262.49 L357.28,264.98 L359.82,267.45 L362.36,269.90 L364.89,272.30 L367.43,274.67 L369.97,276.99 L372.50,279.26 L375.04,281.48 L377.58,283.65 L380.11,285.76 L382.65,287.81 L385.18,289.82 L387.72,291.77 L390.26,293.66 L392.79,295.47 L395.33,297.19 L397.87,298.83 L400.40,300.38 L402.94,301.84 L405.47,303.24 L408.01,304.57 L410.55,305.83 L413.08,307.03 L415.62,308.17 L418.16,309.26 L420.69,310.28 L423.23,311.26 L425.77,312.18 L428.30,313.06 L430.84,313.90 L433.37,314.69 L435.91,315.45 L438.45,316.17 L440.98,316.86 L443.52,317.52 L446.06,318.16 L448.59,318.76 L451.13,319.35 L453.66,319.91 L456.20,320.45 L458.74,320.97 L461.27,321.48 L463.81,321.96 L466.35,322.42 L468.88,322.87 L471.42,323.29 L473.96,323.70 L476.49,324.08 L479.03,324.43 L481.56,324.75 L484.10,325.05 L486.64,325.31 L489.17,325.55 L491.71,325.77 L494.25,325.97 L496.78,326.16 L499.32,326.33 L501.85,326.49 L504.39,326.64 L506.93,326.79 L509.46,326.94 L512.00,327.09" stroke="#00c8ff" stroke-width="1.1"/>
<path d="M58.00,318.03 L60.54,318.07 L63.07,318.03 L65.61,317.93 L68.15,317.74 L70.68,317.44 L73.22,317.06 L75.75,316.58 L78.29,316.00 L80.83,315.33 L83.36,314.57 L85.90,313.74 L88.44,312.82 L90.97,311.80 L93.51,310.70 L96.04,309.53 L98.58,308.28 L101.12,306.94 L103.65,305.47 L106.19,303.90 L108.73,302.23 L111.26,300.51 L113.80,298.75 L116.34,296.96 L118.87,295.14 L121.41,293.32 L123.94,291.50 L126.48,289.68 L129.02,287.87 L131.55,286.08 L134.09,284.34 L136.63,282.68 L139.16,281.10 L141.70,279.63 L144.23,278.25 L146.77,276.95 L149.31,275.74 L151.84,274.59 L154.38,273.51 L156.92,272.51 L159.45,271.61 L161.99,270.80 L164.53,270.09 L167.06,269.50 L169.60,268.97 L172.13,268.50 L174.67,268.08 L177.21,267.71 L179.74,267.36 L182.28,267.03 L184.82,266.70 L187.35,266.35 L189.89,265.98 L192.42,265.57 L194.96,265.11 L197.50,264.60 L200.03,264.02 L202.57,263.37 L205.11,262.69 L207.64,262.03 L210.18,261.31 L212.72,260.47 L215.25,259.51 L217.79,258.46 L220.32,257.30 L222.86,256.00 L225.40,254.58 L227.93,253.04 L230.47,251.42 L233.01,249.74 L235.54,248.00 L238.08,246.20 L240.61,244.38 L243.15,242.56 L245.69,240.80 L248.22,239.07 L250.76,237.36 L253.30,235.70 L255.83,234.09 L258.37,232.51 L260.91,230.90 L263.44,229.25 L265.98,227.60 L268.51,226.05 L271.05,224.65 L273.59,223.34 L276.12,222.20 L278.66,221.28 L281.20,220.66 L283.73,220.23 L286.27,219.98 L288.80,219.91 L291.34,220.03 L293.88,220.32 L296.41,220.78 L298.95,221.40 L301.49,222.18 L304.02,223.10 L306.56,224.15 L309.09,225.32 L311.63,226.61 L314.17,228.01 L316.70,229.52 L319.24,231.14 L321.78,232.84 L324.31,234.60 L326.85,236.46 L329.39,238.44 L331.92,240.57 L334.46,242.81 L336.99,245.15 L339.53,247.54 L342.07,249.97 L344.60,252.46 L347.14,254.97 L349.68,257.49 L352.21,259.99 L354.75,262.50 L357.28,264.99 L359.82,267.47 L362.36,269.92 L364.89,272.34 L367.43,274.71 L369.97,277.05 L372.50,279.33 L375.04,281.56 L377.58,283.73 L380.11,285.85 L382.65,287.92 L385.18,289.94 L387.72,291.90 L390.26,293.79 L392.79,295.61 L395.33,297.34 L397.87,298.98 L400.40,300.53 L402.94,301.99 L405.47,303.39 L408.01,304.71 L410.55,305.97 L413.08,307.17 L415.62,308.31 L418.16,309.39 L420.69,310.41 L423.23,311.38 L425.77,312.30 L428.30,313.18 L430.84,314.00 L433.37,314.79 L435.91,315.55 L438.45,316.26 L440.98,316.95 L443.52,317.61 L446.06,318.23 L448.59,318.84 L451.13,319.42 L453.66,319.98 L456.20,320.52 L458.74,321.03 L461.27,321.53 L463.81,322.01 L466.35,322.47 L468.88,322.91 L471.42,323.34 L473.96,323.74 L476.49,324.12 L479.03,324.47 L481.56,324.79 L484.10,325.08 L486.64,325.34 L489.17,325.58 L491.71,325.80 L494.25,326.00 L496.78,326.19 L499.32,326.36 L501.85,326.52 L504.39,326.67 L506.93,326.82 L509.46,326.97 L512.00,327.11" stroke="#05ecf1" stroke-width="1.1"/>
<path d="M58.00,318.07 L60.54,318.10 L63.07,318.06 L65.61,317.96 L68.15,317.77 L70.68,317.47 L73.22,317.09 L75.75,316.61 L78.29,316.03 L80.83,315.35 L83.36,314.59 L85.90,313.76 L88.44,312.83 L90.97,311.81 L93.51,310.72 L96.04,309.55 L98.58,308.29 L101.12,306.94 L103.65,305.47 L106.19,303.89 L108.73,302.23 L111.26,300.50 L113.80,298.74 L116.34,296.94 L118.87,295.12 L121.41,293.30 L123.94,291.47 L126.48,289.65 L129.02,287.83 L131.55,286.03 L134.09,284.29 L136.63,282.62 L139.16,281.04 L141.70,279.57 L144.23,278.18 L146.77,276.88 L149.31,275.66 L151.84,274.51 L154.38,273.42 L156.92,272.42 L159.45,271.52 L161.99,270.72 L164.53,270.02 L167.06,269.43 L169.60,268.91 L172.13,268.45 L174.67,268.04 L177.21,267.67 L179.74,267.33 L182.28,267.00 L184.82,266.67 L187.35,266.33 L189.89,265.96 L192.42,265.56 L194.96,265.10 L197.50,264.59 L200.03,264.02 L202.57,263.38 L205.11,262.70 L207.64,262.03 L210.18,261.31 L212.72,260.48 L215.25,259.52 L217.79,258.47 L220.32,257.31 L222.86,256.01 L225.40,254.59 L227.93,253.05 L230.47,251.43 L233.01,249.74 L235.54,248.00 L238.08,246.21 L240.61,244.38 L243.15,242.56 L245.69,240.79 L248.22,239.06 L250.76,237.34 L253.30,235.68 L255.83,234.06 L258.37,232.46 L260.91,230.84 L263.44,229.17 L265.98,227.51 L268.51,225.94 L271.05,224.52 L273.59,223.20 L276.12,222.04 L278.66,221.11 L281.20,220.48 L283.73,220.04 L286.27,219.78 L288.80,219.71 L291.34,219.82 L293.88,220.11 L296.41,220.57 L298.95,221.19 L301.49,221.98 L304.02,222.90 L306.56,223.95 L309.09,225.13 L311.63,226.44 L314.17,227.85 L316.70,229.37 L319.24,231.00 L321.78,232.72 L324.31,234.51 L326.85,236.38 L329.39,238.38 L331.92,240.52 L334.46,242.77 L336.99,245.12 L339.53,247.52 L342.07,249.96 L344.60,252.45 L347.14,254.97 L349.68,257.49 L352.21,260.00 L354.75,262.51 L357.28,265.01 L359.82,267.49 L362.36,269.95 L364.89,272.37 L367.43,274.76 L369.97,277.10 L372.50,279.39 L375.04,281.64 L377.58,283.82 L380.11,285.95 L382.65,288.03 L385.18,290.06 L387.72,292.03 L390.26,293.93 L392.79,295.75 L395.33,297.48 L397.87,299.13 L400.40,300.67 L402.94,302.14 L405.47,303.53 L408.01,304.86 L410.55,306.12 L413.08,307.31 L415.62,308.44 L418.16,309.52 L420.69,310.54 L423.23,311.50 L425.77,312.42 L428.30,313.29 L430.84,314.11 L433.37,314.90 L435.91,315.64 L438.45,316.36 L440.98,317.04 L443.52,317.69 L446.06,318.31 L448.59,318.91 L451.13,319.49 L453.66,320.05 L456.20,320.58 L458.74,321.09 L461.27,321.59 L463.81,322.06 L466.35,322.52 L468.88,322.96 L471.42,323.38 L473.96,323.78 L476.49,324.16 L479.03,324.51 L481.56,324.83 L484.10,325.12 L486.64,325.38 L489.17,325.62 L491.71,325.83 L494.25,326.03 L496.78,326.22 L499.32,326.39 L501.85,326.55 L504.39,326.70 L506.93,326.85 L509.46,327.00 L512.00,327.14" stroke="#22ffd4" stroke-width="1.1"/>
<path d="M58.00,318.10 L60.54,318.13 L63.07,318.10 L65.61,317.99 L68.15,317.80 L70.68,317.50 L73.22,317.11 L75.75,316.63 L78.29,316.05 L80.83,315.37 L83.36,314.61 L85.90,313.78 L88.44,312.85 L90.97,311.83 L93.51,310.73 L96.04,309.56 L98.58,308.30 L101.12,306.95 L103.65,305.48 L106.19,303.89 L108.73,302.22 L111.26,300.49 L113.80,298.73 L116.34,296.92 L118.87,295.10 L121.41,293.27 L123.94,291.44 L126.48,289.61 L129.02,287.79 L131.55,285.99 L134.09,284.25 L136.63,282.57 L139.16,280.99 L141.70,279.50 L144.23,278.11 L146.77,276.80 L149.31,275.58 L151.84,274.42 L154.38,273.33 L156.92,272.33 L159.45,271.43 L161.99,270.64 L164.53,269.94 L167.06,269.36 L169.60,268.85 L172.13,268.40 L174.67,268.00 L177.21,267.63 L179.74,267.30 L182.28,266.98 L184.82,266.65 L187.35,266.32 L189.89,265.95 L192.42,265.55 L194.96,265.10 L197.50,264.59 L200.03,264.02 L202.57,263.38 L205.11,262.70 L207.64,262.04 L210.18,261.32 L212.72,260.49 L215.25,259.53 L217.79,258.48 L220.32,257.32 L222.86,256.03 L225.40,254.60 L227.93,253.06 L230.47,251.44 L233.01,249.75 L235.54,248.01 L238.08,246.21 L240.61,244.38 L243.15,242.56 L245.69,240.78 L248.22,239.05 L250.76,237.32 L253.30,235.65 L255.83,234.03 L258.37,232.41 L260.91,230.78 L263.44,229.10 L265.98,227.42 L268.51,225.82 L271.05,224.39 L273.59,223.06 L276.12,221.88 L278.66,220.94 L281.20,220.30 L283.73,219.85 L286.27,219.59 L288.80,219.51 L291.34,219.61 L293.88,219.90 L296.41,220.36 L298.95,220.98 L301.49,221.77 L304.02,222.69 L306.56,223.76 L309.09,224.95 L311.63,226.26 L314.17,227.69 L316.70,229.23 L319.24,230.87 L321.78,232.61 L324.31,234.41 L326.85,236.30 L329.39,238.31 L331.92,240.46 L334.46,242.74 L336.99,245.09 L339.53,247.50 L342.07,249.95 L344.60,252.44 L347.14,254.97 L349.68,257.49 L352.21,260.00 L354.75,262.51 L357.28,265.02 L359.82,267.51 L362.36,269.97 L364.89,272.40 L367.43,274.80 L369.97,277.15 L372.50,279.46 L375.04,281.71 L377.58,283.91 L380.11,286.05 L382.65,288.14 L385.18,290.18 L387.72,292.15 L390.26,294.06 L392.79,295.89 L395.33,297.63 L397.87,299.27 L400.40,300.82 L402.94,302.29 L405.47,303.68 L408.01,305.00 L410.55,306.26 L413.08,307.45 L415.62,308.58 L418.16,309.65 L420.69,310.67 L423.23,311.63 L425.77,312.54 L428.30,313.40 L430.84,314.22 L433.37,315.00 L435.91,315.74 L438.45,316.45 L440.98,317.13 L443.52,317.77 L446.06,318.39 L448.59,318.99 L451.13,319.56 L453.66,320.11 L456.20,320.64 L458.74,321.15 L461.27,321.64 L463.81,322.12 L466.35,322.57 L468.88,323.01 L471.42,323.43 L473.96,323.83 L476.49,324.20 L479.03,324.55 L481.56,324.86 L484.10,325.15 L486.64,325.41 L489.17,325.65 L491.71,325.86 L494.25,326.06 L496.78,326.24 L499.32,326.41 L501.85,326.57 L504.39,326.73 L506.93,326.88 L509.46,327.02 L512.00,327.17" stroke="#3fffb7" stroke-width="1.1"/>
<path d="M58.00,318.13 L60.54,318.16 L63.07,318.13 L65.61,318.02 L68.15,317.83 L70.68,317.53 L73.22,317.14 L75.75,316.66 L78.29,316.08 L80.83,315.40 L83.36,314.64 L85.90,313.80 L88.44,312.87 L90.97,311.84 L93.51,310.74 L96.04,309.57 L98.58,308.31 L101.12,306.95 L103.65,305.48 L106.19,303.89 L108.73,302.22 L111.26,300.49 L113.80,298.71 L116.34,296.91 L118.87,295.08 L121.41,293.25 L123.94,291.41 L126.48,289.58 L129.02,287.75 L131.55,285.95 L134.09,284.20 L136.63,282.52 L139.16,280.93 L141.70,279.44 L144.23,278.04 L146.77,276.73 L149.31,275.49 L151.84,274.33 L154.38,273.24 L156.92,272.24 L159.45,271.35 L161.99,270.55 L164.53,269.86 L167.06,269.29 L169.60,268.79 L172.13,268.34 L174.67,267.95 L177.21,267.60 L179.74,267.27 L182.28,266.95 L184.82,266.63 L187.35,266.30 L189.89,265.94 L192.42,265.54 L194.96,265.10 L197.50,264.59 L200.03,264.02 L202.57,263.38 L205.11,262.71 L207.64,262.05 L210.18,261.33 L212.72,260.50 L215.25,259.54 L217.79,258.49 L220.32,257.33 L222.86,256.04 L225.40,254.61 L227.93,253.07 L230.47,251.44 L233.01,249.76 L235.54,248.01 L238.08,246.21 L240.61,244.38 L243.15,242.56 L245.69,240.78 L248.22,239.04 L250.76,237.31 L253.30,235.63 L255.83,233.99 L258.37,232.37 L260.91,230.72 L263.44,229.02 L265.98,227.32 L268.51,225.71 L271.05,224.26 L273.59,222.91 L276.12,221.72 L278.66,220.77 L281.20,220.12 L283.73,219.66 L286.27,219.39 L288.80,219.31 L291.34,219.41 L293.88,219.69 L296.41,220.15 L298.95,220.77 L301.49,221.56 L304.02,222.49 L306.56,223.56 L309.09,224.76 L311.63,226.08 L314.17,227.52 L316.70,229.08 L319.24,230.74 L321.78,232.50 L324.31,234.31 L326.85,236.22 L329.39,238.25 L331.92,240.41 L334.46,242.70 L336.99,245.06 L339.53,247.48 L342.07,249.93 L344.60,252.44 L347.14,254.96 L349.68,257.49 L352.21,260.00 L354.75,262.52 L357.28,265.03 L359.82,267.52 L362.36,270.00 L364.89,272.44 L367.43,274.84 L369.97,277.21 L372.50,279.52 L375.04,281.79 L377.58,284.00 L380.11,286.15 L382.65,288.25 L385.18,290.30 L387.72,292.28 L390.26,294.19 L392.79,296.03 L395.33,297.77 L397.87,299.42 L400.40,300.97 L402.94,302.43 L405.47,303.83 L408.01,305.15 L410.55,306.40 L413.08,307.59 L415.62,308.71 L418.16,309.78 L420.69,310.79 L423.23,311.75 L425.77,312.65 L428.30,313.51 L430.84,314.33 L433.37,315.10 L435.91,315.84 L438.45,316.54 L440.98,317.21 L443.52,317.86 L446.06,318.47 L448.59,319.06 L451.13,319.63 L453.66,320.18 L456.20,320.71 L458.74,321.21 L461.27,321.70 L463.81,322.17 L466.35,322.62 L468.88,323.06 L471.42,323.47 L473.96,323.87 L476.49,324.24 L479.03,324.59 L481.56,324.90 L484.10,325.19 L486.64,325.44 L489.17,325.68 L491.71,325.90 L494.25,326.09 L496.78,326.27 L499.32,326.44 L501.85,326.60 L504.39,326.75 L506.93,326.90 L509.46,327.05 L512.00,327.20" stroke="#5cff9a" stroke-width="1.1"/>
<path d="M58.00,318.16 L60.54,318.19 L63.07,318.16 L65.61,318.05 L68.15,317.86 L70.68,317.56 L73.22,317.17 L75.75,316.69 L78.29,316.11 L80.83,315.42 L83.36,314.66 L85.90,313.82 L88.44,312.89 L90.97,311.86 L93.51,310.76 L96.04,309.58 L98.58,308.31 L101.12,306.96 L103.65,305.48 L106.19,303.89 L108.73,302.21 L111.26,300.48 L113.80,298.70 L116.34,296.89 L118.87,295.06 L121.41,293.22 L123.94,291.38 L126.48,289.55 L129.02,287.71 L131.55,285.91 L134.09,284.15 L136.63,282.47 L139.16,280.87 L141.70,279.38 L144.23,277.97 L146.77,276.65 L149.31,275.41 L151.84,274.25 L154.38,273.16 L156.92,272.15 L159.45,271.26 L161.99,270.47 L164.53,269.79 L167.06,269.22 L169.60,268.73 L172.13,268.29 L174.67,267.91 L177.21,267.56 L179.74,267.24 L182.28,266.93 L184.82,266.61 L187.35,266.28 L189.89,265.93 L192.42,265.53 L194.96,265.09 L197.50,264.59 L200.03,264.02 L202.57,263.39 L205.11,262.71 L207.64,262.05 L210.18,261.34 L212.72,260.51 L215.25,259.55 L217.79,258.50 L220.32,257.34 L222.86,256.05 L225.40,254.62 L227.93,253.08 L230.47,251.45 L233.01,249.77 L235.54,248.02 L238.08,246.22 L240.61,244.38 L243.15,242.55 L245.69,240.77 L248.22,239.03 L250.76,237.29 L253.30,235.60 L255.83,233.96 L258.37,232.32 L260.91,230.66 L263.44,228.94 L265.98,227.23 L268.51,225.60 L271.05,224.13 L273.59,222.77 L276.12,221.57 L278.66,220.60 L281.20,219.94 L283.73,219.47 L286.27,219.20 L288.80,219.11 L291.34,219.20 L293.88,219.48 L296.41,219.94 L298.95,220.56 L301.49,221.35 L304.02,222.29 L306.56,223.36 L309.09,224.57 L311.63,225.91 L314.17,227.36 L316.70,228.93 L319.24,230.61 L321.78,232.38 L324.31,234.22 L326.85,236.14 L329.39,238.18 L331.92,240.36 L334.46,242.66 L336.99,245.03 L339.53,247.46 L342.07,249.92 L344.60,252.43 L347.14,254.96 L349.68,257.49 L352.21,260.01 L354.75,262.53 L357.28,265.04 L359.82,267.54 L362.36,270.02 L364.89,272.47 L367.43,274.89 L369.97,277.26 L372.50,279.59 L375.04,281.86 L377.58,284.09 L380.11,286.25 L382.65,288.36 L385.18,290.42 L387.72,292.41 L390.26,294.33 L392.79,296.17 L395.33,297.91 L397.87,299.57 L400.40,301.12 L402.94,302.58 L405.47,303.97 L408.01,305.29 L410.55,306.54 L413.08,307.73 L415.62,308.85 L418.16,309.91 L420.69,310.92 L423.23,311.87 L425.77,312.77 L428.30,313.63 L430.84,314.44 L433.37,315.21 L435.91,315.94 L438.45,316.64 L440.98,317.30 L443.52,317.94 L446.06,318.55 L448.59,319.14 L451.13,319.70 L453.66,320.25 L456.20,320.77 L458.74,321.27 L461.27,321.76 L463.81,322.22 L466.35,322.67 L468.88,323.10 L471.42,323.52 L473.96,323.91 L476.49,324.28 L479.03,324.63 L481.56,324.94 L484.10,325.22 L486.64,325.48 L489.17,325.71 L491.71,325.93 L494.25,326.12 L496.78,326.30 L499.32,326.47 L501.85,326.63 L504.39,326.78 L506.93,326.93 L509.46,327.08 L512.00,327.22" stroke="#7cff79" stroke-width="1.1"/>
<path d="M58.00,318.19 L60.54,318.22 L63.07,318.19 L65.61,318.08 L68.15,317.89 L70.68,317.59 L73.22,317.20 L75.75,316.71 L78.29,316.13 L80.83,315.45 L83.36,314.68 L85.90,313.84 L88.44,312.91 L90.97,311.88 L93.51,310.77 L96.04,309.59 L98.58,308.32 L101.12,306.96 L103.65,305.48 L106.19,303.89 L108.73,302.21 L111.26,300.47 L113.80,298.69 L116.34,296.87 L118.87,295.04 L121.41,293.20 L123.94,291.35 L126.48,289.51 L129.02,287.68 L131.55,285.86 L134.09,284.10 L136.63,282.41 L139.16,280.81 L141.70,279.31 L144.23,277.90 L146.77,276.58 L149.31,275.33 L151.84,274.16 L154.38,273.07 L156.92,272.06 L159.45,271.17 L161.99,270.39 L164.53,269.71 L167.06,269.16 L169.60,268.67 L172.13,268.24 L174.67,267.86 L177.21,267.52 L179.74,267.20 L182.28,266.90 L184.82,266.59 L187.35,266.27 L189.89,265.92 L192.42,265.53 L194.96,265.09 L197.50,264.59 L200.03,264.02 L202.57,263.39 L205.11,262.72 L207.64,262.06 L210.18,261.35 L212.72,260.52 L215.25,259.56 L217.79,258.51 L220.32,257.35 L222.86,256.06 L225.40,254.63 L227.93,253.09 L230.47,251.46 L233.01,249.77 L235.54,248.03 L238.08,246.22 L240.61,244.38 L243.15,242.55 L245.69,240.76 L248.22,239.02 L250.76,237.27 L253.30,235.58 L255.83,233.92 L258.37,232.28 L260.91,230.60 L263.44,228.87 L265.98,227.14 L268.51,225.49 L271.05,224.00 L273.59,222.62 L276.12,221.41 L278.66,220.43 L281.20,219.76 L283.73,219.28 L286.27,219.00 L288.80,218.90 L291.34,218.99 L293.88,219.27 L296.41,219.73 L298.95,220.35 L301.49,221.14 L304.02,222.08 L306.56,223.17 L309.09,224.38 L311.63,225.73 L314.17,227.20 L316.70,228.78 L319.24,230.48 L321.78,232.27 L324.31,234.12 L326.85,236.06 L329.39,238.12 L331.92,240.31 L334.46,242.62 L336.99,245.01 L339.53,247.44 L342.07,249.91 L344.60,252.42 L347.14,254.96 L349.68,257.49 L352.21,260.01 L354.75,262.54 L357.28,265.05 L359.82,267.56 L362.36,270.05 L364.89,272.51 L367.43,274.93 L369.97,277.31 L372.50,279.65 L375.04,281.94 L377.58,284.17 L380.11,286.35 L382.65,288.47 L385.18,290.54 L387.72,292.54 L390.26,294.46 L392.79,296.31 L395.33,298.06 L397.87,299.71 L400.40,301.26 L402.94,302.73 L405.47,304.12 L408.01,305.44 L410.55,306.68 L413.08,307.87 L415.62,308.99 L418.16,310.04 L420.69,311.05 L423.23,311.99 L425.77,312.89 L428.30,313.74 L430.84,314.54 L433.37,315.31 L435.91,316.04 L438.45,316.73 L440.98,317.39 L443.52,318.02 L446.06,318.63 L448.59,319.21 L451.13,319.77 L453.66,320.31 L456.20,320.83 L458.74,321.33 L461.27,321.81 L463.81,322.28 L466.35,322.72 L468.88,323.15 L471.42,323.56 L473.96,323.95 L476.49,324.32 L479.03,324.66 L481.56,324.97 L484.10,325.26 L486.64,325.51 L489.17,325.74 L491.71,325.96 L494.25,326.15 L496.78,326.33 L499.32,326.50 L501.85,326.66 L504.39,326.81 L506.93,326.96 L509.46,327.11 L512.00,327.25" stroke="#9aff5c" stroke-width="1.1"/>
<path d="M58.00,318.22 L60.54,318.25 L63.07,318.22 L65.61,318.11 L68.15,317.92 L70.68,317.62 L73.22,317.23 L75.75,316.74 L78.29,316.16 L80.83,315.47 L83.36,314.70 L85.90,313.86 L88.44,312.92 L90.97,311.89 L93.51,310.78 L96.04,309.60 L98.58,308.33 L101.12,306.97 L103.65,305.48 L106.19,303.88 L108.73,302.20 L111.26,300.46 L113.80,298.67 L116.34,296.86 L118.87,295.02 L121.41,293.17 L123.94,291.32 L126.48,289.48 L129.02,287.64 L131.55,285.82 L134.09,284.06 L136.63,282.36 L139.16,280.75 L141.70,279.25 L144.23,277.83 L146.77,276.50 L149.31,275.25 L151.84,274.08 L154.38,272.98 L156.92,271.97 L159.45,271.08 L161.99,270.31 L164.53,269.64 L167.06,269.09 L169.60,268.61 L172.13,268.19 L174.67,267.82 L177.21,267.48 L179.74,267.17 L182.28,266.87 L184.82,266.57 L187.35,266.25 L189.89,265.91 L192.42,265.52 L194.96,265.08 L197.50,264.59 L200.03,264.03 L202.57,263.39 L205.11,262.72 L207.64,262.07 L210.18,261.35 L212.72,260.52 L215.25,259.57 L217.79,258.52 L220.32,257.36 L222.86,256.07 L225.40,254.64 L227.93,253.10 L230.47,251.47 L233.01,249.78 L235.54,248.03 L238.08,246.22 L240.61,244.39 L243.15,242.55 L245.69,240.76 L248.22,239.00 L250.76,237.26 L253.30,235.55 L255.83,233.89 L258.37,232.23 L260.91,230.55 L263.44,228.79 L265.98,227.04 L268.51,225.38 L271.05,223.87 L273.59,222.48 L276.12,221.25 L278.66,220.26 L281.20,219.58 L283.73,219.09 L286.27,218.80 L288.80,218.70 L291.34,218.79 L293.88,219.06 L296.41,219.52 L298.95,220.14 L301.49,220.94 L304.02,221.88 L306.56,222.97 L309.09,224.19 L311.63,225.55 L314.17,227.04 L316.70,228.64 L319.24,230.35 L321.78,232.15 L324.31,234.02 L326.85,235.98 L329.39,238.05 L331.92,240.26 L334.46,242.58 L336.99,244.98 L339.53,247.42 L342.07,249.89 L344.60,252.41 L347.14,254.95 L349.68,257.49 L352.21,260.02 L354.75,262.54 L357.28,265.07 L359.82,267.58 L362.36,270.07 L364.89,272.54 L367.43,274.97 L369.97,277.37 L372.50,279.72 L375.04,282.02 L377.58,284.26 L380.11,286.45 L382.65,288.58 L385.18,290.65 L387.72,292.66 L390.26,294.60 L392.79,296.45 L395.33,298.20 L397.87,299.86 L400.40,301.41 L402.94,302.88 L405.47,304.27 L408.01,305.58 L410.55,306.83 L413.08,308.01 L415.62,309.12 L418.16,310.18 L420.69,311.17 L423.23,312.12 L425.77,313.01 L428.30,313.85 L430.84,314.65 L433.37,315.41 L435.91,316.13 L438.45,316.82 L440.98,317.48 L443.52,318.11 L446.06,318.71 L448.59,319.29 L451.13,319.84 L453.66,320.38 L456.20,320.89 L458.74,321.39 L461.27,321.87 L463.81,322.33 L466.35,322.77 L468.88,323.20 L471.42,323.61 L473.96,324.00 L476.49,324.36 L479.03,324.70 L481.56,325.01 L484.10,325.29 L486.64,325.55 L489.17,325.78 L491.71,325.99 L494.25,326.18 L496.78,326.36 L499.32,326.53 L501.85,326.69 L504.39,326.84 L506.93,326.99 L509.46,327.13 L512.00,327.28" stroke="#b7ff3f" stroke-width="1.1"/>
<path d="M58.00,318.25 L60.54,318.28 L63.07,318.25 L65.61,318.14 L68.15,317.95 L70.68,317.65 L73.22,317.25 L75.75,316.77 L78.29,316.18 L80.83,315.49 L83.36,314.72 L85.90,313.88 L88.44,312.94 L90.97,311.91 L93.51,310.80 L96.04,309.61 L98.58,308.34 L101.12,306.97 L103.65,305.48 L106.19,303.88 L108.73,302.20 L111.26,300.45 L113.80,298.66 L116.34,296.84 L118.87,295.00 L121.41,293.15 L123.94,291.30 L126.48,289.45 L129.02,287.60 L131.55,285.78 L134.09,284.01 L136.63,282.31 L139.16,280.70 L141.70,279.18 L144.23,277.76 L146.77,276.42 L149.31,275.17 L151.84,273.99 L154.38,272.89 L156.92,271.88 L159.45,271.00 L161.99,270.22 L164.53,269.56 L167.06,269.02 L169.60,268.55 L172.13,268.14 L174.67,267.77 L177.21,267.44 L179.74,267.14 L182.28,266.85 L184.82,266.55 L187.35,266.24 L189.89,265.89 L192.42,265.51 L194.96,265.08 L197.50,264.59 L200.03,264.03 L202.57,263.40 L205.11,262.73 L207.64,262.07 L210.18,261.36 L212.72,260.53 L215.25,259.58 L217.79,258.53 L220.32,257.37 L222.86,256.08 L225.40,254.65 L227.93,253.11 L230.47,251.48 L233.01,249.79 L235.54,248.04 L238.08,246.23 L240.61,244.39 L243.15,242.55 L245.69,240.75 L248.22,238.99 L250.76,237.24 L253.30,235.53 L255.83,233.86 L258.37,232.19 L260.91,230.49 L263.44,228.72 L265.98,226.95 L268.51,225.27 L271.05,223.74 L273.59,222.34 L276.12,221.09 L278.66,220.09 L281.20,219.39 L283.73,218.91 L286.27,218.61 L288.80,218.50 L291.34,218.58 L293.88,218.85 L296.41,219.31 L298.95,219.93 L301.49,220.73 L304.02,221.68 L306.56,222.77 L309.09,224.01 L311.63,225.38 L314.17,226.87 L316.70,228.49 L319.24,230.22 L321.78,232.04 L324.31,233.93 L326.85,235.90 L329.39,237.99 L331.92,240.21 L334.46,242.54 L336.99,244.95 L339.53,247.40 L342.07,249.88 L344.60,252.40 L347.14,254.95 L349.68,257.49 L352.21,260.02 L354.75,262.55 L357.28,265.08 L359.82,267.59 L362.36,270.10 L364.89,272.57 L367.43,275.02 L369.97,277.42 L372.50,279.78 L375.04,282.09 L377.58,284.35 L380.11,286.55 L382.65,288.69 L385.18,290.77 L387.72,292.79 L390.26,294.73 L392.79,296.58 L395.33,298.34 L397.87,300.00 L400.40,301.56 L402.94,303.02 L405.47,304.41 L408.01,305.73 L410.55,306.97 L413.08,308.15 L415.62,309.26 L418.16,310.31 L420.69,311.30 L423.23,312.24 L425.77,313.13 L428.30,313.96 L430.84,314.76 L433.37,315.52 L435.91,316.23 L438.45,316.92 L440.98,317.57 L443.52,318.19 L446.06,318.79 L448.59,319.36 L451.13,319.92 L453.66,320.45 L456.20,320.96 L458.74,321.45 L461.27,321.93 L463.81,322.38 L466.35,322.82 L468.88,323.25 L471.42,323.65 L473.96,324.04 L476.49,324.41 L479.03,324.74 L481.56,325.05 L484.10,325.33 L486.64,325.58 L489.17,325.81 L491.71,326.02 L494.25,326.21 L496.78,326.39 L499.32,326.56 L501.85,326.71 L504.39,326.87 L506.93,327.01 L509.46,327.16 L512.00,327.31" stroke="#d4ff22" stroke-width="1.1"/>
<path d="M58.00,318.28 L60.54,318.31 L63.07,318.28 L65.61,318.17 L68.15,317.98 L70.68,317.68 L73.22,317.28 L75.75,316.80 L78.29,316.21 L80.83,315.52 L83.36,314.75 L85.90,313.90 L88.44,312.96 L90.97,311.92 L93.51,310.81 L96.04,309.62 L98.58,308.34 L101.12,306.98 L103.65,305.48 L106.19,303.88 L108.73,302.19 L111.26,300.44 L113.80,298.65 L116.34,296.82 L118.87,294.98 L121.41,293.12 L123.94,291.27 L126.48,289.41 L129.02,287.56 L131.55,285.74 L134.09,283.96 L136.63,282.26 L139.16,280.64 L141.70,279.12 L144.23,277.69 L146.77,276.35 L149.31,275.09 L151.84,273.90 L154.38,272.80 L156.92,271.80 L159.45,270.91 L161.99,270.14 L164.53,269.48 L167.06,268.95 L169.60,268.49 L172.13,268.08 L174.67,267.73 L177.21,267.41 L179.74,267.11 L182.28,266.82 L184.82,266.53 L187.35,266.22 L189.89,265.88 L192.42,265.50 L194.96,265.07 L197.50,264.58 L200.03,264.03 L202.57,263.40 L205.11,262.73 L207.64,262.08 L210.18,261.37 L212.72,260.54 L215.25,259.59 L217.79,258.54 L220.32,257.38 L222.86,256.09 L225.40,254.66 L227.93,253.12 L230.47,251.49 L233.01,249.80 L235.54,248.04 L238.08,246.23 L240.61,244.39 L243.15,242.55 L245.69,240.75 L248.22,238.98 L250.76,237.22 L253.30,235.51 L255.83,233.82 L258.37,232.14 L260.91,230.43 L263.44,228.64 L265.98,226.85 L268.51,225.15 L271.05,223.62 L273.59,222.19 L276.12,220.93 L278.66,219.92 L281.20,219.21 L283.73,218.72 L286.27,218.41 L288.80,218.30 L291.34,218.38 L293.88,218.64 L296.41,219.10 L298.95,219.72 L301.49,220.52 L304.02,221.47 L306.56,222.57 L309.09,223.82 L311.63,225.20 L314.17,226.71 L316.70,228.34 L319.24,230.09 L321.78,231.93 L324.31,233.83 L326.85,235.82 L329.39,237.92 L331.92,240.16 L334.46,242.50 L336.99,244.92 L339.53,247.38 L342.07,249.87 L344.60,252.40 L347.14,254.95 L349.68,257.49 L352.21,260.02 L354.75,262.56 L357.28,265.09 L359.82,267.61 L362.36,270.12 L364.89,272.61 L367.43,275.06 L369.97,277.48 L372.50,279.85 L375.04,282.17 L377.58,284.44 L380.11,286.64 L382.65,288.80 L385.18,290.89 L387.72,292.92 L390.26,294.87 L392.79,296.72 L395.33,298.49 L397.87,300.15 L400.40,301.71 L402.94,303.17 L405.47,304.56 L408.01,305.87 L410.55,307.11 L413.08,308.28 L415.62,309.39 L418.16,310.44 L420.69,311.43 L423.23,312.36 L425.77,313.24 L428.30,314.08 L430.84,314.87 L433.37,315.62 L435.91,316.33 L438.45,317.01 L440.98,317.66 L443.52,318.28 L446.06,318.87 L448.59,319.44 L451.13,319.99 L453.66,320.51 L456.20,321.02 L458.74,321.51 L461.27,321.98 L463.81,322.44 L466.35,322.87 L468.88,323.29 L471.42,323.70 L473.96,324.08 L476.49,324.45 L479.03,324.78 L481.56,325.08 L484.10,325.36 L486.64,325.61 L489.17,325.84 L491.71,326.05 L494.25,326.24 L496.78,326.42 L499.32,326.59 L501.85,326.74 L504.39,326.89 L506.93,327.04 L509.46,327.19 L512.00,327.33" stroke="#f1fc05" stroke-width="1.1"/>
<path d="M58.00,318.31 L60.54,318.34 L63.07,318.31 L65.61,318.20 L68.15,318.01 L70.68,317.70 L73.22,317.31 L75.75,316.82 L78.29,316.23 L80.83,315.54 L83.36,314.77 L85.90,313.92 L88.44,312.98 L90.97,311.94 L93.51,310.82 L96.04,309.63 L98.58,308.35 L101.12,306.98 L103.65,305.48 L106.19,303.88 L108.73,302.18 L111.26,300.43 L113.80,298.64 L116.34,296.81 L118.87,294.96 L121.41,293.10 L123.94,291.24 L126.48,289.38 L129.02,287.52 L131.55,285.69 L134.09,283.91 L136.63,282.20 L139.16,280.58 L141.70,279.06 L144.23,277.62 L146.77,276.27 L149.31,275.00 L151.84,273.82 L154.38,272.71 L156.92,271.71 L159.45,270.82 L161.99,270.06 L164.53,269.41 L167.06,268.88 L169.60,268.43 L172.13,268.03 L174.67,267.68 L177.21,267.37 L179.74,267.08 L182.28,266.80 L184.82,266.51 L187.35,266.20 L189.89,265.87 L192.42,265.49 L194.96,265.07 L197.50,264.58 L200.03,264.03 L202.57,263.40 L205.11,262.74 L207.64,262.08 L210.18,261.38 L212.72,260.55 L215.25,259.59 L217.79,258.55 L220.32,257.39 L222.86,256.10 L225.40,254.67 L227.93,253.13 L230.47,251.50 L233.01,249.80 L235.54,248.05 L238.08,246.23 L240.61,244.39 L243.15,242.54 L245.69,240.74 L248.22,238.97 L250.76,237.21 L253.30,235.48 L255.83,233.79 L258.37,232.10 L260.91,230.37 L263.44,228.56 L265.98,226.76 L268.51,225.04 L271.05,223.49 L273.59,222.05 L276.12,220.78 L278.66,219.75 L281.20,219.03 L283.73,218.53 L286.27,218.21 L288.80,218.09 L291.34,218.17 L293.88,218.43 L296.41,218.89 L298.95,219.51 L301.49,220.31 L304.02,221.27 L306.56,222.38 L309.09,223.63 L311.63,225.02 L314.17,226.55 L316.70,228.20 L319.24,229.96 L321.78,231.81 L324.31,233.73 L326.85,235.74 L329.39,237.86 L331.92,240.11 L334.46,242.46 L336.99,244.89 L339.53,247.36 L342.07,249.86 L344.60,252.39 L347.14,254.94 L349.68,257.49 L352.21,260.03 L354.75,262.57 L357.28,265.10 L359.82,267.63 L362.36,270.15 L364.89,272.64 L367.43,275.10 L369.97,277.53 L372.50,279.91 L375.04,282.25 L377.58,284.52 L380.11,286.74 L382.65,288.91 L385.18,291.01 L387.72,293.05 L390.26,295.00 L392.79,296.86 L395.33,298.63 L397.87,300.30 L400.40,301.85 L402.94,303.32 L405.47,304.71 L408.01,306.02 L410.55,307.25 L413.08,308.42 L415.62,309.53 L418.16,310.57 L420.69,311.55 L423.23,312.48 L425.77,313.36 L428.30,314.19 L430.84,314.98 L433.37,315.72 L435.91,316.43 L438.45,317.10 L440.98,317.75 L443.52,318.36 L446.06,318.95 L448.59,319.51 L451.13,320.06 L453.66,320.58 L456.20,321.08 L458.74,321.57 L461.27,322.04 L463.81,322.49 L466.35,322.92 L468.88,323.34 L471.42,323.74 L473.96,324.12 L476.49,324.49 L479.03,324.82 L481.56,325.12 L484.10,325.40 L486.64,325.65 L489.17,325.87 L491.71,326.08 L494.25,326.27 L496.78,326.45 L499.32,326.61 L501.85,326.77 L504.39,326.92 L506.93,327.07 L509.46,327.22 L512.00,327.36" stroke="#ffda00" stroke-width="1.1"/>
<path d="M58.00,318.34 L60.54,318.38 L63.07,318.34 L65.61,318.23 L68.15,318.04 L70.68,317.73 L73.22,317.34 L75.75,316.85 L78.29,316.26 L80.83,315.56 L83.36,314.79 L85.90,313.94 L88.44,313.00 L90.97,311.95 L93.51,310.83 L96.04,309.64 L98.58,308.36 L101.12,306.98 L103.65,305.49 L106.19,303.88 L108.73,302.18 L111.26,300.42 L113.80,298.62 L116.34,296.79 L118.87,294.94 L121.41,293.07 L123.94,291.21 L126.48,289.35 L129.02,287.49 L131.55,285.65 L134.09,283.87 L136.63,282.15 L139.16,280.52 L141.70,278.99 L144.23,277.55 L146.77,276.20 L149.31,274.92 L151.84,273.73 L154.38,272.62 L156.92,271.62 L159.45,270.73 L161.99,269.97 L164.53,269.33 L167.06,268.81 L169.60,268.37 L172.13,267.98 L174.67,267.64 L177.21,267.33 L179.74,267.05 L182.28,266.77 L184.82,266.49 L187.35,266.19 L189.89,265.86 L192.42,265.49 L194.96,265.06 L197.50,264.58 L200.03,264.03 L202.57,263.40 L205.11,262.74 L207.64,262.09 L210.18,261.38 L212.72,260.56 L215.25,259.60 L217.79,258.56 L220.32,257.40 L222.86,256.11 L225.40,254.68 L227.93,253.14 L230.47,251.51 L233.01,249.81 L235.54,248.05 L238.08,246.24 L240.61,244.39 L243.15,242.54 L245.69,240.73 L248.22,238.96 L250.76,237.19 L253.30,235.46 L255.83,233.75 L258.37,232.05 L260.91,230.31 L263.44,228.49 L265.98,226.67 L268.51,224.93 L271.05,223.36 L273.59,221.90 L276.12,220.62 L278.66,219.58 L281.20,218.85 L283.73,218.34 L286.27,218.02 L288.80,217.89 L291.34,217.96 L293.88,218.23 L296.41,218.67 L298.95,219.30 L301.49,220.11 L304.02,221.07 L306.56,222.18 L309.09,223.44 L311.63,224.85 L314.17,226.38 L316.70,228.05 L319.24,229.83 L321.78,231.70 L324.31,233.64 L326.85,235.66 L329.39,237.79 L331.92,240.06 L334.46,242.43 L336.99,244.87 L339.53,247.34 L342.07,249.84 L344.60,252.38 L347.14,254.94 L349.68,257.49 L352.21,260.03 L354.75,262.57 L357.28,265.11 L359.82,267.65 L362.36,270.17 L364.89,272.67 L367.43,275.15 L369.97,277.58 L372.50,279.98 L375.04,282.32 L377.58,284.61 L380.11,286.84 L382.65,289.02 L385.18,291.13 L387.72,293.17 L390.26,295.13 L392.79,297.00 L395.33,298.78 L397.87,300.44 L400.40,302.00 L402.94,303.47 L405.47,304.85 L408.01,306.16 L410.55,307.40 L413.08,308.56 L415.62,309.66 L418.16,310.70 L420.69,311.68 L423.23,312.60 L425.77,313.48 L428.30,314.30 L430.84,315.08 L433.37,315.82 L435.91,316.53 L438.45,317.20 L440.98,317.83 L443.52,318.44 L446.06,319.03 L448.59,319.59 L451.13,320.13 L453.66,320.65 L456.20,321.15 L458.74,321.63 L461.27,322.10 L463.81,322.54 L466.35,322.97 L468.88,323.39 L471.42,323.79 L473.96,324.17 L476.49,324.53 L479.03,324.86 L481.56,325.16 L484.10,325.43 L486.64,325.68 L489.17,325.91 L491.71,326.11 L494.25,326.30 L496.78,326.48 L499.32,326.64 L501.85,326.80 L504.39,326.95 L506.93,327.10 L509.46,327.24 L512.00,327.39" stroke="#ffb900" stroke-width="1.1"/>
<path d="M58.00,318.37 L60.54,318.41 L63.07,318.37 L65.61,318.27 L68.15,318.07 L70.68,317.76 L73.22,317.37 L75.75,316.88 L78.29,316.29 L80.83,315.59 L83.36,314.81 L85.90,313.96 L88.44,313.01 L90.97,311.97 L93.51,310.85 L96.04,309.65 L98.58,308.37 L101.12,306.99 L103.65,305.49 L106.19,303.87 L108.73,302.17 L111.26,300.41 L113.80,298.61 L116.34,296.77 L118.87,294.91 L121.41,293.05 L123.94,291.18 L126.48,289.31 L129.02,287.45 L131.55,285.61 L134.09,283.82 L136.63,282.10 L139.16,280.46 L141.70,278.93 L144.23,277.48 L146.77,276.12 L149.31,274.84 L151.84,273.64 L154.38,272.53 L156.92,271.53 L159.45,270.65 L161.99,269.89 L164.53,269.25 L167.06,268.74 L169.60,268.31 L172.13,267.93 L174.67,267.59 L177.21,267.29 L179.74,267.02 L182.28,266.74 L184.82,266.47 L187.35,266.17 L189.89,265.85 L192.42,265.48 L194.96,265.06 L197.50,264.58 L200.03,264.03 L202.57,263.41 L205.11,262.75 L207.64,262.10 L210.18,261.39 L212.72,260.57 L215.25,259.61 L217.79,258.57 L220.32,257.41 L222.86,256.12 L225.40,254.69 L227.93,253.15 L230.47,251.51 L233.01,249.82 L235.54,248.06 L238.08,246.24 L240.61,244.39 L243.15,242.54 L245.69,240.73 L248.22,238.95 L250.76,237.17 L253.30,235.43 L255.83,233.72 L258.37,232.00 L260.91,230.25 L263.44,228.41 L265.98,226.57 L268.51,224.82 L271.05,223.23 L273.59,221.76 L276.12,220.46 L278.66,219.41 L281.20,218.67 L283.73,218.15 L286.27,217.82 L288.80,217.69 L291.34,217.76 L293.88,218.02 L296.41,218.46 L298.95,219.09 L301.49,219.90 L304.02,220.86 L306.56,221.98 L309.09,223.25 L311.63,224.67 L314.17,226.22 L316.70,227.90 L319.24,229.70 L321.78,231.59 L324.31,233.54 L326.85,235.58 L329.39,237.73 L331.92,240.00 L334.46,242.39 L336.99,244.84 L339.53,247.32 L342.07,249.83 L344.60,252.37 L347.14,254.93 L349.68,257.49 L352.21,260.03 L354.75,262.58 L357.28,265.13 L359.82,267.67 L362.36,270.20 L364.89,272.71 L367.43,275.19 L369.97,277.64 L372.50,280.04 L375.04,282.40 L377.58,284.70 L380.11,286.94 L382.65,289.12 L385.18,291.25 L387.72,293.30 L390.26,295.27 L392.79,297.14 L395.33,298.92 L397.87,300.59 L400.40,302.15 L402.94,303.61 L405.47,305.00 L408.01,306.31 L410.55,307.54 L413.08,308.70 L415.62,309.80 L418.16,310.83 L420.69,311.81 L423.23,312.73 L425.77,313.60 L428.30,314.42 L430.84,315.19 L433.37,315.93 L435.91,316.63 L438.45,317.29 L440.98,317.92 L443.52,318.53 L446.06,319.11 L448.59,319.66 L451.13,320.20 L453.66,320.71 L456.20,321.21 L458.74,321.69 L461.27,322.15 L463.81,322.60 L466.35,323.02 L468.88,323.44 L471.42,323.83 L473.96,324.21 L476.49,324.57 L479.03,324.89 L481.56,325.19 L484.10,325.47 L486.64,325.71 L489.17,325.94 L491.71,326.14 L494.25,326.33 L496.78,326.51 L499.32,326.67 L501.85,326.83 L504.39,326.98 L506.93,327.12 L509.46,327.27 L512.00,327.42" stroke="#ff9400" stroke-width="1.1"/>
<path d="M58.00,318.40 L60.54,318.44 L63.07,318.40 L65.61,318.30 L68.15,318.10 L70.68,317.79 L73.22,317.40 L75.75,316.90 L78.29,316.31 L80.83,315.61 L83.36,314.83 L85.90,313.98 L88.44,313.03 L90.97,311.99 L93.51,310.86 L96.04,309.66 L98.58,308.38 L101.12,306.99 L103.65,305.49 L106.19,303.87 L108.73,302.17 L111.26,300.40 L113.80,298.60 L116.34,296.76 L118.87,294.89 L121.41,293.02 L123.94,291.15 L126.48,289.28 L129.02,287.41 L131.55,285.57 L134.09,283.77 L136.63,282.05 L139.16,280.41 L141.70,278.87 L144.23,277.42 L146.77,276.05 L149.31,274.76 L151.84,273.56 L154.38,272.44 L156.92,271.44 L159.45,270.56 L161.99,269.81 L164.53,269.18 L167.06,268.68 L169.60,268.25 L172.13,267.88 L174.67,267.55 L177.21,267.26 L179.74,266.98 L182.28,266.72 L184.82,266.45 L187.35,266.16 L189.89,265.84 L192.42,265.47 L194.96,265.05 L197.50,264.58 L200.03,264.03 L202.57,263.41 L205.11,262.75 L207.64,262.10 L210.18,261.40 L212.72,260.58 L215.25,259.62 L217.79,258.58 L220.32,257.42 L222.86,256.13 L225.40,254.70 L227.93,253.16 L230.47,251.52 L233.01,249.82 L235.54,248.06 L238.08,246.24 L240.61,244.39 L243.15,242.54 L245.69,240.72 L248.22,238.94 L250.76,237.16 L253.30,235.41 L255.83,233.69 L258.37,231.96 L260.91,230.19 L263.44,228.34 L265.98,226.48 L268.51,224.71 L271.05,223.10 L273.59,221.62 L276.12,220.30 L278.66,219.24 L281.20,218.49 L283.73,217.96 L286.27,217.62 L288.80,217.49 L291.34,217.55 L293.88,217.81 L296.41,218.25 L298.95,218.89 L301.49,219.69 L304.02,220.66 L306.56,221.79 L309.09,223.07 L311.63,224.49 L314.17,226.06 L316.70,227.75 L319.24,229.56 L321.78,231.47 L324.31,233.44 L326.85,235.50 L329.39,237.66 L331.92,239.95 L334.46,242.35 L336.99,244.81 L339.53,247.30 L342.07,249.82 L344.60,252.37 L347.14,254.93 L349.68,257.49 L352.21,260.04 L354.75,262.59 L357.28,265.14 L359.82,267.68 L362.36,270.22 L364.89,272.74 L367.43,275.23 L369.97,277.69 L372.50,280.11 L375.04,282.47 L377.58,284.79 L380.11,287.04 L382.65,289.23 L385.18,291.37 L387.72,293.43 L390.26,295.40 L392.79,297.28 L395.33,299.06 L397.87,300.74 L400.40,302.30 L402.94,303.76 L405.47,305.15 L408.01,306.45 L410.55,307.68 L413.08,308.84 L415.62,309.93 L418.16,310.96 L420.69,311.93 L423.23,312.85 L425.77,313.71 L428.30,314.53 L430.84,315.30 L433.37,316.03 L435.91,316.72 L438.45,317.38 L440.98,318.01 L443.52,318.61 L446.06,319.19 L448.59,319.74 L451.13,320.27 L453.66,320.78 L456.20,321.27 L458.74,321.75 L461.27,322.21 L463.81,322.65 L466.35,323.08 L468.88,323.48 L471.42,323.88 L473.96,324.25 L476.49,324.61 L479.03,324.93 L481.56,325.23 L484.10,325.50 L486.64,325.75 L489.17,325.97 L491.71,326.18 L494.25,326.36 L496.78,326.54 L499.32,326.70 L501.85,326.86 L504.39,327.00 L506.93,327.15 L509.46,327.30 L512.00,327.44" stroke="#ff7300" stroke-width="1.1"/>
<path d="M58.00,318.44 L60.54,318.47 L63.07,318.43 L65.61,318.33 L68.15,318.13 L70.68,317.82 L73.22,317.42 L75.75,316.93 L78.29,316.34 L80.83,315.64 L83.36,314.86 L85.90,314.00 L88.44,313.05 L90.97,312.00 L93.51,310.87 L96.04,309.67 L98.58,308.38 L101.12,307.00 L103.65,305.49 L106.19,303.87 L108.73,302.16 L111.26,300.40 L113.80,298.58 L116.34,296.74 L118.87,294.87 L121.41,293.00 L123.94,291.12 L126.48,289.25 L129.02,287.37 L131.55,285.52 L134.09,283.72 L136.63,281.99 L139.16,280.35 L141.70,278.80 L144.23,277.35 L146.77,275.97 L149.31,274.68 L151.84,273.47 L154.38,272.36 L156.92,271.35 L159.45,270.47 L161.99,269.72 L164.53,269.10 L167.06,268.61 L169.60,268.19 L172.13,267.82 L174.67,267.50 L177.21,267.22 L179.74,266.95 L182.28,266.69 L184.82,266.43 L187.35,266.14 L189.89,265.82 L192.42,265.46 L194.96,265.05 L197.50,264.58 L200.03,264.03 L202.57,263.41 L205.11,262.76 L207.64,262.11 L210.18,261.41 L212.72,260.59 L215.25,259.63 L217.79,258.59 L220.32,257.43 L222.86,256.14 L225.40,254.71 L227.93,253.17 L230.47,251.53 L233.01,249.83 L235.54,248.07 L238.08,246.25 L240.61,244.39 L243.15,242.53 L245.69,240.72 L248.22,238.93 L250.76,237.14 L253.30,235.38 L255.83,233.65 L258.37,231.91 L260.91,230.13 L263.44,228.26 L265.98,226.38 L268.51,224.60 L271.05,222.97 L273.59,221.47 L276.12,220.15 L278.66,219.08 L281.20,218.31 L283.73,217.77 L286.27,217.43 L288.80,217.29 L291.34,217.34 L293.88,217.60 L296.41,218.04 L298.95,218.68 L301.49,219.48 L304.02,220.46 L306.56,221.59 L309.09,222.88 L311.63,224.32 L314.17,225.90 L316.70,227.61 L319.24,229.43 L321.78,231.36 L324.31,233.35 L326.85,235.42 L329.39,237.60 L331.92,239.90 L334.46,242.31 L336.99,244.78 L339.53,247.28 L342.07,249.80 L344.60,252.36 L347.14,254.93 L349.68,257.49 L352.21,260.04 L354.75,262.60 L357.28,265.15 L359.82,267.70 L362.36,270.25 L364.89,272.77 L367.43,275.28 L369.97,277.74 L372.50,280.17 L375.04,282.55 L377.58,284.87 L380.11,287.14 L382.65,289.34 L385.18,291.49 L387.72,293.55 L390.26,295.54 L392.79,297.42 L395.33,299.21 L397.87,300.88 L400.40,302.44 L402.94,303.91 L405.47,305.29 L408.01,306.60 L410.55,307.82 L413.08,308.98 L415.62,310.07 L418.16,311.09 L420.69,312.06 L423.23,312.97 L425.77,313.83 L428.30,314.64 L430.84,315.41 L433.37,316.13 L435.91,316.82 L438.45,317.48 L440.98,318.10 L443.52,318.70 L446.06,319.27 L448.59,319.81 L451.13,320.34 L453.66,320.85 L456.20,321.34 L458.74,321.81 L461.27,322.26 L463.81,322.70 L466.35,323.13 L468.88,323.53 L471.42,323.92 L473.96,324.29 L476.49,324.65 L479.03,324.97 L481.56,325.27 L484.10,325.54 L486.64,325.78 L489.17,326.00 L491.71,326.21 L494.25,326.39 L496.78,326.57 L499.32,326.73 L501.85,326.88 L504.39,327.03 L506.93,327.18 L509.46,327.33 L512.00,327.47" stroke="#ff5100" stroke-width="1.1"/>
<path d="M58.00,318.47 L60.54,318.50 L63.07,318.47 L65.61,318.36 L68.15,318.16 L70.68,317.85 L73.22,317.45 L75.75,316.96 L78.29,316.36 L80.83,315.66 L83.36,314.88 L85.90,314.02 L88.44,313.07 L90.97,312.02 L93.51,310.89 L96.04,309.68 L98.58,308.39 L101.12,307.00 L103.65,305.49 L106.19,303.87 L108.73,302.16 L111.26,300.39 L113.80,298.57 L116.34,296.72 L118.87,294.85 L121.41,292.97 L123.94,291.09 L126.48,289.21 L129.02,287.33 L131.55,285.48 L134.09,283.68 L136.63,281.94 L139.16,280.29 L141.70,278.74 L144.23,277.28 L146.77,275.89 L149.31,274.60 L151.84,273.39 L154.38,272.27 L156.92,271.26 L159.45,270.39 L161.99,269.64 L164.53,269.02 L167.06,268.54 L169.60,268.13 L172.13,267.77 L174.67,267.46 L177.21,267.18 L179.74,266.92 L182.28,266.67 L184.82,266.41 L187.35,266.13 L189.89,265.81 L192.42,265.45 L194.96,265.04 L197.50,264.57 L200.03,264.03 L202.57,263.42 L205.11,262.76 L207.64,262.12 L210.18,261.42 L212.72,260.59 L215.25,259.64 L217.79,258.60 L220.32,257.44 L222.86,256.15 L225.40,254.72 L227.93,253.18 L230.47,251.54 L233.01,249.84 L235.54,248.08 L238.08,246.25 L240.61,244.39 L243.15,242.53 L245.69,240.71 L248.22,238.92 L250.76,237.12 L253.30,235.36 L255.83,233.62 L258.37,231.87 L260.91,230.07 L263.44,228.18 L265.98,226.29 L268.51,224.48 L271.05,222.84 L273.59,221.33 L276.12,219.99 L278.66,218.91 L281.20,218.13 L283.73,217.58 L286.27,217.23 L288.80,217.08 L291.34,217.14 L293.88,217.39 L296.41,217.83 L298.95,218.47 L301.49,219.28 L304.02,220.25 L306.56,221.39 L309.09,222.69 L311.63,224.14 L314.17,225.73 L316.70,227.46 L319.24,229.30 L321.78,231.24 L324.31,233.25 L326.85,235.34 L329.39,237.53 L331.92,239.85 L334.46,242.27 L336.99,244.75 L339.53,247.26 L342.07,249.79 L344.60,252.35 L347.14,254.92 L349.68,257.49 L352.21,260.05 L354.75,262.60 L357.28,265.16 L359.82,267.72 L362.36,270.27 L364.89,272.81 L367.43,275.32 L369.97,277.80 L372.50,280.24 L375.04,282.63 L377.58,284.96 L380.11,287.24 L382.65,289.45 L385.18,291.60 L387.72,293.68 L390.26,295.67 L392.79,297.56 L395.33,299.35 L397.87,301.03 L400.40,302.59 L402.94,304.06 L405.47,305.44 L408.01,306.74 L410.55,307.97 L413.08,309.12 L415.62,310.20 L418.16,311.23 L420.69,312.19 L423.23,313.09 L425.77,313.95 L428.30,314.75 L430.84,315.52 L433.37,316.24 L435.91,316.92 L438.45,317.57 L440.98,318.19 L443.52,318.78 L446.06,319.35 L448.59,319.89 L451.13,320.41 L453.66,320.91 L456.20,321.40 L458.74,321.87 L461.27,322.32 L463.81,322.76 L466.35,323.18 L468.88,323.58 L471.42,323.97 L473.96,324.34 L476.49,324.69 L479.03,325.01 L481.56,325.30 L484.10,325.57 L486.64,325.81 L489.17,326.04 L491.71,326.24 L494.25,326.42 L496.78,326.60 L499.32,326.76 L501.85,326.91 L504.39,327.06 L506.93,327.21 L509.46,327.35 L512.00,327.50" stroke="#ff3000" stroke-width="1.1"/>
<path d="M58.00,318.50 L60.54,318.53 L63.07,318.50 L65.61,318.39 L68.15,318.19 L70.68,317.88 L73.22,317.48 L75.75,316.98 L78.29,316.39 L80.83,315.68 L83.36,314.90 L85.90,314.04 L88.44,313.09 L90.97,312.03 L93.51,310.90 L96.04,309.69 L98.58,308.40 L101.12,307.01 L103.65,305.49 L106.19,303.87 L108.73,302.15 L111.26,300.38 L113.80,298.56 L116.34,296.71 L118.87,294.83 L121.41,292.95 L123.94,291.06 L126.48,289.18 L129.02,287.30 L131.55,285.44 L134.09,283.63 L136.63,281.89 L139.16,280.23 L141.70,278.68 L144.23,277.21 L146.77,275.82 L149.31,274.52 L151.84,273.30 L154.38,272.18 L156.92,271.17 L159.45,270.30 L161.99,269.56 L164.53,268.95 L167.06,268.47 L169.60,268.07 L172.13,267.72 L174.67,267.42 L177.21,267.14 L179.74,266.89 L182.28,266.64 L184.82,266.39 L187.35,266.11 L189.89,265.80 L192.42,265.45 L194.96,265.04 L197.50,264.57 L200.03,264.03 L202.57,263.42 L205.11,262.77 L207.64,262.12 L210.18,261.42 L212.72,260.60 L215.25,259.65 L217.79,258.61 L220.32,257.45 L222.86,256.16 L225.40,254.73 L227.93,253.18 L230.47,251.55 L233.01,249.85 L235.54,248.08 L238.08,246.25 L240.61,244.39 L243.15,242.53 L245.69,240.70 L248.22,238.91 L250.76,237.10 L253.30,235.33 L255.83,233.59 L258.37,231.82 L260.91,230.01 L263.44,228.11 L265.98,226.20 L268.51,224.37 L271.05,222.72 L273.59,221.19 L276.12,219.83 L278.66,218.74 L281.20,217.95 L283.73,217.39 L286.27,217.04 L288.80,216.88 L291.34,216.93 L293.88,217.18 L296.41,217.62 L298.95,218.26 L301.49,219.07 L304.02,220.05 L306.56,221.20 L309.09,222.50 L311.63,223.96 L314.17,225.57 L316.70,227.31 L319.24,229.17 L321.78,231.13 L324.31,233.15 L326.85,235.26 L329.39,237.47 L331.92,239.80 L334.46,242.23 L336.99,244.72 L339.53,247.24 L342.07,249.78 L344.60,252.34 L347.14,254.92 L349.68,257.49 L352.21,260.05 L354.75,262.61 L357.28,265.17 L359.82,267.74 L362.36,270.30 L364.89,272.84 L367.43,275.36 L369.97,277.85 L372.50,280.30 L375.04,282.70 L377.58,285.05 L380.11,287.33 L382.65,289.56 L385.18,291.72 L387.72,293.81 L390.26,295.81 L392.79,297.70 L395.33,299.49 L397.87,301.17 L400.40,302.74 L402.94,304.21 L405.47,305.59 L408.01,306.89 L410.55,308.11 L413.08,309.26 L415.62,310.34 L418.16,311.36 L420.69,312.31 L423.23,313.22 L425.77,314.07 L428.30,314.87 L430.84,315.62 L433.37,316.34 L435.91,317.02 L438.45,317.66 L440.98,318.28 L443.52,318.86 L446.06,319.43 L448.59,319.96 L451.13,320.48 L453.66,320.98 L456.20,321.46 L458.74,321.93 L461.27,322.38 L463.81,322.81 L466.35,323.23 L468.88,323.63 L471.42,324.01 L473.96,324.38 L476.49,324.73 L479.03,325.05 L481.56,325.34 L484.10,325.61 L486.64,325.85 L489.17,326.07 L491.71,326.27 L494.25,326.45 L496.78,326.63 L499.32,326.79 L501.85,326.94 L504.39,327.09 L506.93,327.23 L509.46,327.38 L512.00,327.53" stroke="#fa0f00" stroke-width="1.1"/>
<path d="M58.00,318.53 L60.54,318.56 L63.07,318.53 L65.61,318.42 L68.15,318.22 L70.68,317.91 L73.22,317.51 L75.75,317.01 L78.29,316.41 L80.83,315.71 L83.36,314.92 L85.90,314.06 L88.44,313.10 L90.97,312.05 L93.51,310.91 L96.04,309.70 L98.58,308.41 L101.12,307.01 L103.65,305.49 L106.19,303.86 L108.73,302.15 L111.26,300.37 L113.80,298.55 L116.34,296.69 L118.87,294.81 L121.41,292.92 L123.94,291.03 L126.48,289.15 L129.02,287.26 L131.55,285.40 L134.09,283.58 L136.63,281.84 L139.16,280.18 L141.70,278.61 L144.23,277.14 L146.77,275.74 L149.31,274.43 L151.84,273.21 L154.38,272.09 L156.92,271.08 L159.45,270.21 L161.99,269.48 L164.53,268.87 L167.06,268.40 L169.60,268.01 L172.13,267.67 L174.67,267.37 L177.21,267.10 L179.74,266.86 L182.28,266.62 L184.82,266.37 L187.35,266.09 L189.89,265.79 L192.42,265.44 L194.96,265.04 L197.50,264.57 L200.03,264.03 L202.57,263.42 L205.11,262.77 L207.64,262.13 L210.18,261.43 L212.72,260.61 L215.25,259.66 L217.79,258.62 L220.32,257.46 L222.86,256.17 L225.40,254.74 L227.93,253.19 L230.47,251.56 L233.01,249.85 L235.54,248.09 L238.08,246.26 L240.61,244.39 L243.15,242.53 L245.69,240.70 L248.22,238.90 L250.76,237.09 L253.30,235.31 L255.83,233.55 L258.37,231.78 L260.91,229.95 L263.44,228.03 L265.98,226.10 L268.51,224.26 L271.05,222.59 L273.59,221.04 L276.12,219.67 L278.66,218.57 L281.20,217.77 L283.73,217.20 L286.27,216.84 L288.80,216.68 L291.34,216.72 L293.88,216.97 L296.41,217.41 L298.95,218.05 L301.49,218.86 L304.02,219.85 L306.56,221.00 L309.09,222.31 L311.63,223.79 L314.17,225.41 L316.70,227.16 L319.24,229.04 L321.78,231.02 L324.31,233.06 L326.85,235.18 L329.39,237.40 L331.92,239.75 L334.46,242.19 L336.99,244.70 L339.53,247.22 L342.07,249.77 L344.60,252.34 L347.14,254.92 L349.68,257.49 L352.21,260.05 L354.75,262.62 L357.28,265.19 L359.82,267.75 L362.36,270.32 L364.89,272.87 L367.43,275.41 L369.97,277.91 L372.50,280.37 L375.04,282.78 L377.58,285.14 L380.11,287.43 L382.65,289.67 L385.18,291.84 L387.72,293.94 L390.26,295.94 L392.79,297.84 L395.33,299.64 L397.87,301.32 L400.40,302.89 L402.94,304.35 L405.47,305.73 L408.01,307.03 L410.55,308.25 L413.08,309.40 L415.62,310.47 L418.16,311.49 L420.69,312.44 L423.23,313.34 L425.77,314.18 L428.30,314.98 L430.84,315.73 L433.37,316.44 L435.91,317.12 L438.45,317.76 L440.98,318.37 L443.52,318.95 L446.06,319.50 L448.59,320.04 L451.13,320.55 L453.66,321.05 L456.20,321.53 L458.74,321.99 L461.27,322.43 L463.81,322.86 L466.35,323.28 L468.88,323.67 L471.42,324.06 L473.96,324.42 L476.49,324.77 L479.03,325.09 L481.56,325.38 L484.10,325.64 L486.64,325.88 L489.17,326.10 L491.71,326.30 L494.25,326.48 L496.78,326.66 L499.32,326.82 L501.85,326.97 L504.39,327.12 L506.93,327.26 L509.46,327.41 L512.00,327.55" stroke="#d10000" stroke-width="1.1"/>
<path d="M58.00,318.56 L60.54,318.59 L63.07,318.56 L65.61,318.45 L68.15,318.25 L70.68,317.94 L73.22,317.54 L75.75,317.04 L78.29,316.44 L80.83,315.73 L83.36,314.95 L85.90,314.08 L88.44,313.12 L90.97,312.06 L93.51,310.93 L96.04,309.71 L98.58,308.41 L101.12,307.02 L103.65,305.50 L106.19,303.86 L108.73,302.14 L111.26,300.36 L113.80,298.53 L116.34,296.67 L118.87,294.79 L121.41,292.90 L123.94,291.00 L126.48,289.11 L129.02,287.22 L131.55,285.35 L134.09,283.53 L136.63,281.78 L139.16,280.12 L141.70,278.55 L144.23,277.07 L146.77,275.67 L149.31,274.35 L151.84,273.13 L154.38,272.00 L156.92,270.99 L159.45,270.12 L161.99,269.39 L164.53,268.79 L167.06,268.33 L169.60,267.95 L172.13,267.62 L174.67,267.33 L177.21,267.07 L179.74,266.83 L182.28,266.59 L184.82,266.34 L187.35,266.08 L189.89,265.78 L192.42,265.43 L194.96,265.03 L197.50,264.57 L200.03,264.04 L202.57,263.43 L205.11,262.78 L207.64,262.14 L210.18,261.44 L212.72,260.62 L215.25,259.67 L217.79,258.63 L220.32,257.47 L222.86,256.18 L225.40,254.75 L227.93,253.20 L230.47,251.57 L233.01,249.86 L235.54,248.09 L238.08,246.26 L240.61,244.39 L243.15,242.52 L245.69,240.69 L248.22,238.89 L250.76,237.07 L253.30,235.29 L255.83,233.52 L258.37,231.73 L260.91,229.89 L263.44,227.95 L265.98,226.01 L268.51,224.15 L271.05,222.46 L273.59,220.90 L276.12,219.52 L278.66,218.40 L281.20,217.59 L283.73,217.02 L286.27,216.64 L288.80,216.48 L291.34,216.52 L293.88,216.76 L296.41,217.20 L298.95,217.84 L301.49,218.65 L304.02,219.64 L306.56,220.80 L309.09,222.13 L311.63,223.61 L314.17,225.24 L316.70,227.02 L319.24,228.91 L321.78,230.90 L324.31,232.96 L326.85,235.10 L329.39,237.34 L331.92,239.70 L334.46,242.15 L336.99,244.67 L339.53,247.21 L342.07,249.75 L344.60,252.33 L347.14,254.91 L349.68,257.49 L352.21,260.06 L354.75,262.63 L357.28,265.20 L359.82,267.77 L362.36,270.35 L364.89,272.91 L367.43,275.45 L369.97,277.96 L372.50,280.43 L375.04,282.86 L377.58,285.22 L380.11,287.53 L382.65,289.78 L385.18,291.96 L387.72,294.06 L390.26,296.07 L392.79,297.98 L395.33,299.78 L397.87,301.47 L400.40,303.03 L402.94,304.50 L405.47,305.88 L408.01,307.18 L410.55,308.39 L413.08,309.54 L415.62,310.61 L418.16,311.62 L420.69,312.57 L423.23,313.46 L425.77,314.30 L428.30,315.09 L430.84,315.84 L433.37,316.55 L435.91,317.21 L438.45,317.85 L440.98,318.45 L443.52,319.03 L446.06,319.58 L448.59,320.11 L451.13,320.62 L453.66,321.12 L456.20,321.59 L458.74,322.05 L461.27,322.49 L463.81,322.92 L466.35,323.33 L468.88,323.72 L471.42,324.10 L473.96,324.46 L476.49,324.81 L479.03,325.13 L481.56,325.41 L484.10,325.68 L486.64,325.91 L489.17,326.13 L491.71,326.33 L494.25,326.51 L496.78,326.68 L499.32,326.84 L501.85,327.00 L504.39,327.14 L506.93,327.29 L509.46,327.44 L512.00,327.58" stroke="#a80000" stroke-width="1.1"/>
<path d="M58.00,318.59 L60.54,318.62 L63.07,318.59 L65.61,318.48 L68.15,318.28 L70.68,317.97 L73.22,317.56 L75.75,317.07 L78.29,316.46 L80.83,315.76 L83.36,314.97 L85.90,314.10 L88.44,313.14 L90.97,312.08 L93.51,310.94 L96.04,309.72 L98.58,308.42 L101.12,307.02 L103.65,305.50 L106.19,303.86 L108.73,302.14 L111.26,300.35 L113.80,298.52 L116.34,296.66 L118.87,294.77 L121.41,292.87 L123.94,290.98 L126.48,289.08 L129.02,287.18 L131.55,285.31 L134.09,283.49 L136.63,281.73 L139.16,280.06 L141.70,278.49 L144.23,277.00 L146.77,275.59 L149.31,274.27 L151.84,273.04 L154.38,271.91 L156.92,270.90 L159.45,270.04 L161.99,269.31 L164.53,268.72 L167.06,268.26 L169.60,267.89 L172.13,267.56 L174.67,267.28 L177.21,267.03 L179.74,266.79 L182.28,266.56 L184.82,266.32 L187.35,266.06 L189.89,265.76 L192.42,265.42 L194.96,265.03 L197.50,264.57 L200.03,264.04 L202.57,263.43 L205.11,262.78 L207.64,262.14 L210.18,261.45 L212.72,260.63 L215.25,259.68 L217.79,258.64 L220.32,257.48 L222.86,256.19 L225.40,254.76 L227.93,253.21 L230.47,251.57 L233.01,249.87 L235.54,248.10 L238.08,246.26 L240.61,244.39 L243.15,242.52 L245.69,240.69 L248.22,238.87 L250.76,237.05 L253.30,235.26 L255.83,233.48 L258.37,231.69 L260.91,229.83 L263.44,227.88 L265.98,225.91 L268.51,224.04 L271.05,222.33 L273.59,220.75 L276.12,219.36 L278.66,218.23 L281.20,217.41 L283.73,216.83 L286.27,216.45 L288.80,216.27 L291.34,216.31 L293.88,216.55 L296.41,216.99 L298.95,217.63 L301.49,218.45 L304.02,219.44 L306.56,220.61 L309.09,221.94 L311.63,223.43 L314.17,225.08 L316.70,226.87 L319.24,228.78 L321.78,230.79 L324.31,232.86 L326.85,235.02 L329.39,237.27 L331.92,239.65 L334.46,242.12 L336.99,244.64 L339.53,247.19 L342.07,249.74 L344.60,252.32 L347.14,254.91 L349.68,257.49 L352.21,260.06 L354.75,262.63 L357.28,265.21 L359.82,267.79 L362.36,270.37 L364.89,272.94 L367.43,275.49 L369.97,278.01 L372.50,280.50 L375.04,282.93 L377.58,285.31 L380.11,287.63 L382.65,289.89 L385.18,292.08 L387.72,294.19 L390.26,296.21 L392.79,298.12 L395.33,299.93 L397.87,301.61 L400.40,303.18 L402.94,304.65 L405.47,306.03 L408.01,307.32 L410.55,308.54 L413.08,309.68 L415.62,310.75 L418.16,311.75 L420.69,312.69 L423.23,313.58 L425.77,314.42 L428.30,315.21 L430.84,315.95 L433.37,316.65 L435.91,317.31 L438.45,317.94 L440.98,318.54 L443.52,319.12 L446.06,319.66 L448.59,320.19 L451.13,320.69 L453.66,321.18 L456.20,321.65 L458.74,322.11 L461.27,322.55 L463.81,322.97 L466.35,323.38 L468.88,323.77 L471.42,324.15 L473.96,324.51 L476.49,324.85 L479.03,325.16 L481.56,325.45 L484.10,325.71 L486.64,325.95 L489.17,326.16 L491.71,326.36 L494.25,326.54 L496.78,326.71 L499.32,326.87 L501.85,327.02 L504.39,327.17 L506.93,327.32 L509.46,327.46 L512.00,327.61" stroke="#7f0000" stroke-width="1.1"/>
</g>
<g clip-path="url(#clipB)">
<circle cx="81.70" cy="332.00" r="4.6" fill="url(#ball)"/>
<circle cx="88.20" cy="331.10" r="4.6" fill="url(#ball)"/>
<circle cx="124.70" cy="331.10" r="4.6" fill="url(#ball)"/>
<circle cx="179.90" cy="329.30" r="4.6" fill="url(#ball)"/>
<line x1="184.80" y1="307.30" x2="184.80" y2="331.70" stroke="#f020e8" stroke-width="1.3" />
<circle cx="184.80" cy="307.30" r="4.7" fill="url(#ball)"/>
<circle cx="222.50" cy="326.10" r="4.6" fill="url(#ball)"/>
<line x1="319.80" y1="247.70" x2="319.80" y2="331.70" stroke="#f020e8" stroke-width="1.3" />
<circle cx="319.80" cy="247.70" r="4.7" fill="url(#ball)"/>
</g>
<rect x="60.20" y="199.95" width="449.30" height="131.75" fill="none" stroke="#1a1a1a" stroke-width="1.25"/>
<line x1="60.20" y1="331.70" x2="60.20" y2="337.70" stroke="#1a1a1a" stroke-width="1.25" />
<line x1="60.20" y1="199.95" x2="60.20" y2="193.95" stroke="#1a1a1a" stroke-width="1.25" />
<line x1="85.16" y1="331.70" x2="85.16" y2="334.70" stroke="#1a1a1a" stroke-width="1.25" />
<line x1="85.16" y1="199.95" x2="85.16" y2="196.95" stroke="#1a1a1a" stroke-width="1.25" />
<line x1="110.12" y1="331.70" x2="110.12" y2="337.70" stroke="#1a1a1a" stroke-width="1.25" />
<line x1="110.12" y1="199.95" x2="110.12" y2="193.95" stroke="#1a1a1a" stroke-width="1.25" />
<line x1="135.08" y1="331.70" x2="135.08" y2="334.70" stroke="#1a1a1a" stroke-width="1.25" />
<line x1="135.08" y1="199.95" x2="135.08" y2="196.95" stroke="#1a1a1a" stroke-width="1.25" />
<line x1="160.04" y1="331.70" x2="160.04" y2="337.70" stroke="#1a1a1a" stroke-width="1.25" />
<line x1="160.04" y1="199.95" x2="160.04" y2="193.95" stroke="#1a1a1a" stroke-width="1.25" />
<line x1="185.01" y1="331.70" x2="185.01" y2="334.70" stroke="#1a1a1a" stroke-width="1.25" />
<line x1="185.01" y1="199.95" x2="185.01" y2="196.95" stroke="#1a1a1a" stroke-width="1.25" />
<line x1="209.97" y1="331.70" x2="209.97" y2="337.70" stroke="#1a1a1a" stroke-width="1.25" />
<line x1="209.97" y1="199.95" x2="209.97" y2="193.95" stroke="#1a1a1a" stroke-width="1.25" />
<line x1="234.93" y1="331.70" x2="234.93" y2="334.70" stroke="#1a1a1a" stroke-width="1.25" />
<line x1="234.93" y1="199.95" x2="234.93" y2="196.95" stroke="#1a1a1a" stroke-width="1.25" />
<line x1="259.89" y1="331.70" x2="259.89" y2="337.70" stroke="#1a1a1a" stroke-width="1.25" />
<line x1="259.89" y1="199.95" x2="259.89" y2="193.95" stroke="#1a1a1a" stroke-width="1.25" />
<line x1="284.85" y1="331.70" x2="284.85" y2="334.70" stroke="#1a1a1a" stroke-width="1.25" />
<line x1="284.85" y1="199.95" x2="284.85" y2="196.95" stroke="#1a1a1a" stroke-width="1.25" />
<line x1="309.81" y1="331.70" x2="309.81" y2="337.70" stroke="#1a1a1a" stroke-width="1.25" />
<line x1="309.81" y1="199.95" x2="309.81" y2="193.95" stroke="#1a1a1a" stroke-width="1.25" />
<line x1="334.77" y1="331.70" x2="334.77" y2="334.70" stroke="#1a1a1a" stroke-width="1.25" />
<line x1="334.77" y1="199.95" x2="334.77" y2="196.95" stroke="#1a1a1a" stroke-width="1.25" />
<line x1="359.73" y1="331.70" x2="359.73" y2="337.70" stroke="#1a1a1a" stroke-width="1.25" />
<line x1="359.73" y1="199.95" x2="359.73" y2="193.95" stroke="#1a1a1a" stroke-width="1.25" />
<line x1="384.69" y1="331.70" x2="384.69" y2="334.70" stroke="#1a1a1a" stroke-width="1.25" />
<line x1="384.69" y1="199.95" x2="384.69" y2="196.95" stroke="#1a1a1a" stroke-width="1.25" />
<line x1="409.66" y1="331.70" x2="409.66" y2="337.70" stroke="#1a1a1a" stroke-width="1.25" />
<line x1="409.66" y1="199.95" x2="409.66" y2="193.95" stroke="#1a1a1a" stroke-width="1.25" />
<line x1="434.62" y1="331.70" x2="434.62" y2="334.70" stroke="#1a1a1a" stroke-width="1.25" />
<line x1="434.62" y1="199.95" x2="434.62" y2="196.95" stroke="#1a1a1a" stroke-width="1.25" />
<line x1="459.58" y1="331.70" x2="459.58" y2="337.70" stroke="#1a1a1a" stroke-width="1.25" />
<line x1="459.58" y1="199.95" x2="459.58" y2="193.95" stroke="#1a1a1a" stroke-width="1.25" />
<line x1="484.54" y1="331.70" x2="484.54" y2="334.70" stroke="#1a1a1a" stroke-width="1.25" />
<line x1="484.54" y1="199.95" x2="484.54" y2="196.95" stroke="#1a1a1a" stroke-width="1.25" />
<line x1="509.50" y1="331.70" x2="509.50" y2="337.70" stroke="#1a1a1a" stroke-width="1.25" />
<line x1="509.50" y1="199.95" x2="509.50" y2="193.95" stroke="#1a1a1a" stroke-width="1.25" />
<line x1="60.20" y1="331.75" x2="54.20" y2="331.75" stroke="#1a1a1a" stroke-width="1.25" />
<line x1="509.50" y1="331.75" x2="515.50" y2="331.75" stroke="#1a1a1a" stroke-width="1.25" />
<line x1="60.20" y1="311.45" x2="57.20" y2="311.45" stroke="#1a1a1a" stroke-width="1.25" />
<line x1="509.50" y1="311.45" x2="512.50" y2="311.45" stroke="#1a1a1a" stroke-width="1.25" />
<line x1="60.20" y1="291.15" x2="54.20" y2="291.15" stroke="#1a1a1a" stroke-width="1.25" />
<line x1="509.50" y1="291.15" x2="515.50" y2="291.15" stroke="#1a1a1a" stroke-width="1.25" />
<line x1="60.20" y1="270.85" x2="57.20" y2="270.85" stroke="#1a1a1a" stroke-width="1.25" />
<line x1="509.50" y1="270.85" x2="512.50" y2="270.85" stroke="#1a1a1a" stroke-width="1.25" />
<line x1="60.20" y1="250.55" x2="54.20" y2="250.55" stroke="#1a1a1a" stroke-width="1.25" />
<line x1="509.50" y1="250.55" x2="515.50" y2="250.55" stroke="#1a1a1a" stroke-width="1.25" />
<line x1="60.20" y1="230.25" x2="57.20" y2="230.25" stroke="#1a1a1a" stroke-width="1.25" />
<line x1="509.50" y1="230.25" x2="512.50" y2="230.25" stroke="#1a1a1a" stroke-width="1.25" />
<line x1="60.20" y1="209.95" x2="54.20" y2="209.95" stroke="#1a1a1a" stroke-width="1.25" />
<line x1="509.50" y1="209.95" x2="515.50" y2="209.95" stroke="#1a1a1a" stroke-width="1.25" />
<text transform="translate(60.20,352.90) scale(0.965,1)" font-size="14.5" text-anchor="middle" font-family='"Liberation Sans", Arial, sans-serif' fill="#111" stroke="#111" stroke-width="0.25" >2.6</text>
<text transform="translate(110.12,352.90) scale(0.965,1)" font-size="14.5" text-anchor="middle" font-family='"Liberation Sans", Arial, sans-serif' fill="#111" stroke="#111" stroke-width="0.25" >2.8</text>
<text transform="translate(160.04,352.90) scale(0.965,1)" font-size="14.5" text-anchor="middle" font-family='"Liberation Sans", Arial, sans-serif' fill="#111" stroke="#111" stroke-width="0.25" >3.0</text>
<text transform="translate(209.97,352.90) scale(0.965,1)" font-size="14.5" text-anchor="middle" font-family='"Liberation Sans", Arial, sans-serif' fill="#111" stroke="#111" stroke-width="0.25" >3.2</text>
<text transform="translate(259.89,352.90) scale(0.965,1)" font-size="14.5" text-anchor="middle" font-family='"Liberation Sans", Arial, sans-serif' fill="#111" stroke="#111" stroke-width="0.25" >3.4</text>
<text transform="translate(309.81,352.90) scale(0.965,1)" font-size="14.5" text-anchor="middle" font-family='"Liberation Sans", Arial, sans-serif' fill="#111" stroke="#111" stroke-width="0.25" >3.6</text>
<text transform="translate(359.73,352.90) scale(0.965,1)" font-size="14.5" text-anchor="middle" font-family='"Liberation Sans", Arial, sans-serif' fill="#111" stroke="#111" stroke-width="0.25" >3.8</text>
<text transform="translate(409.66,352.90) scale(0.965,1)" font-size="14.5" text-anchor="middle" font-family='"Liberation Sans", Arial, sans-serif' fill="#111" stroke="#111" stroke-width="0.25" >4.0</text>
<text transform="translate(459.58,352.90) scale(0.965,1)" font-size="14.5" text-anchor="middle" font-family='"Liberation Sans", Arial, sans-serif' fill="#111" stroke="#111" stroke-width="0.25" >4.2</text>
<text transform="translate(509.50,352.90) scale(0.965,1)" font-size="14.5" text-anchor="middle" font-family='"Liberation Sans", Arial, sans-serif' fill="#111" stroke="#111" stroke-width="0.25" >4.4</text>
<text transform="translate(50.00,214.15) scale(0.965,1)" font-size="14.5" text-anchor="end" font-family='"Liberation Sans", Arial, sans-serif' fill="#111" stroke="#111" stroke-width="0.25" >2</text>
<text transform="translate(50.00,254.75) scale(0.965,1)" font-size="14.5" text-anchor="end" font-family='"Liberation Sans", Arial, sans-serif' fill="#111" stroke="#111" stroke-width="0.25" >1</text>
<text transform="translate(50.00,295.35) scale(0.965,1)" font-size="14.5" text-anchor="end" font-family='"Liberation Sans", Arial, sans-serif' fill="#111" stroke="#111" stroke-width="0.25" >0</text>
<text transform="translate(50.00,335.95) scale(0.965,1)" font-size="14.5" text-anchor="end" font-family='"Liberation Sans", Arial, sans-serif' fill="#111" stroke="#111" stroke-width="0.25" >-1</text>
<text transform="translate(8.30,215.50) scale(1,1)" font-size="14.6" text-anchor="start" font-family='"Liberation Sans", Arial, sans-serif' fill="#111" stroke="#111" stroke-width="0.25" >(b)</text>
<rect x="450.3" y="208.00" width="21" height="69.10" fill="url(#jet)"/>
<line x1="471.30" y1="208.00" x2="471.30" y2="277.10" stroke="#202060" stroke-width="0.8" opacity="0.7"/>
<line x1="471.30" y1="208.20" x2="476.20" y2="208.20" stroke="#444" stroke-width="0.9" />
<line x1="471.30" y1="276.90" x2="476.20" y2="276.90" stroke="#444" stroke-width="0.9" />
<text transform="translate(479.80,212.00) scale(1,1)" font-size="10.0" text-anchor="start" font-family='"Liberation Sans", Arial, sans-serif' fill="#111" stroke="#111" stroke-width="0.25" >298 K</text>
<text transform="translate(483.80,281.30) scale(1,1)" font-size="10.0" text-anchor="start" font-family='"Liberation Sans", Arial, sans-serif' fill="#111" stroke="#111" stroke-width="0.25" >83 K</text>
<text transform="translate(262.8,374.30) skewX(-9)" fill="#111" font-family='"Liberation Sans", Arial, sans-serif' font-style="italic" font-size="24.5">r</text>
<text x="276.6" y="374.30" fill="#111" font-family='"Liberation Serif", "Times New Roman", serif' font-size="23">(Å)</text>
<g transform="translate(22.80,305.00) rotate(-90)" fill="#111" font-size="23.7" font-family='"Liberation Sans", Arial, sans-serif'>
<text x="0" y="0">G</text><text x="24.4" y="0">(</text>
<text transform="translate(30.4,0) skewX(-16)" font-style="italic">r</text>
<text x="39.9" y="0">)</text></g>
<text transform="translate(205.9,320.2) rotate(-90)" font-size="14" font-family='"Liberation Sans", Arial, sans-serif' fill="#111">Ce-Cu</text>
<text transform="translate(336.5,302.6) rotate(-90)" font-size="14" font-family='"Liberation Sans", Arial, sans-serif' fill="#111">Ce-Ce</text>
<line x1="157.60" y1="280.60" x2="165.03" y2="263.79" stroke="#1010f0" stroke-width="1.7" />
<path d="M167.90,257.30 L166.90,266.48 L164.83,264.25 L161.78,264.22 Z" fill="#1010f0"/>
<line x1="282.50" y1="232.70" x2="294.96" y2="214.01" stroke="#1010f0" stroke-width="1.7" />
<path d="M298.90,208.10 L296.35,216.98 L294.68,214.42 L291.69,213.87 Z" fill="#1010f0"/>
</svg>
</body></html>
